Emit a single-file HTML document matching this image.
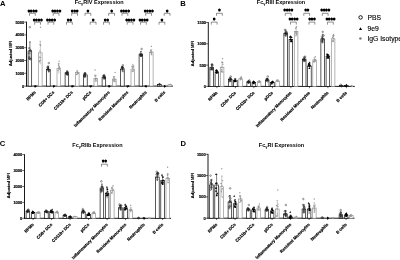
<!DOCTYPE html>
<html><head><meta charset="utf-8"><style>
html,body{margin:0;padding:0;background:#fff;width:400px;height:260px;overflow:hidden}
svg{display:block}
text{font-family:'Liberation Sans', Arial, sans-serif}
</style></head><body>
<svg width="400" height="260" viewBox="0 0 400 260">
<rect width="400" height="260" fill="#fff"/>
<text x="0.00" y="5.90" font-size="7.6" text-anchor="start" font-weight="bold" fill="#000" >A</text>
<text x="99.20" y="4.40" font-size="5.5" text-anchor="middle" font-weight="bold" fill="#000" >Fc<tspan font-size="4.0" dy="0.4">&#947;</tspan><tspan dy="-0.4">RIV Expression</tspan></text>
<text x="12.00" y="53.50" font-size="4.0" text-anchor="middle" font-weight="bold" fill="#000" stroke="#000" stroke-width="0.15" transform="rotate(-90 12.00 53.50)">Adjusted MFI</text>
<line x1="26.50" y1="21.70" x2="26.50" y2="86.50" stroke="#000" stroke-width="0.9"/>
<line x1="26.10" y1="86.10" x2="173.00" y2="86.10" stroke="#000" stroke-width="0.9"/>
<line x1="24.30" y1="86.10" x2="26.50" y2="86.10" stroke="#000" stroke-width="0.6"/>
<text x="24.30" y="87.50" font-size="4.0" text-anchor="end" font-weight="bold" fill="#000" stroke="#000" stroke-width="0.15">0</text>
<line x1="24.30" y1="73.30" x2="26.50" y2="73.30" stroke="#000" stroke-width="0.6"/>
<text x="24.30" y="74.70" font-size="4.0" text-anchor="end" font-weight="bold" fill="#000" stroke="#000" stroke-width="0.15">1000</text>
<line x1="24.30" y1="60.50" x2="26.50" y2="60.50" stroke="#000" stroke-width="0.6"/>
<text x="24.30" y="61.90" font-size="4.0" text-anchor="end" font-weight="bold" fill="#000" stroke="#000" stroke-width="0.15">2000</text>
<line x1="24.30" y1="47.70" x2="26.50" y2="47.70" stroke="#000" stroke-width="0.6"/>
<text x="24.30" y="49.10" font-size="4.0" text-anchor="end" font-weight="bold" fill="#000" stroke="#000" stroke-width="0.15">3000</text>
<line x1="24.30" y1="34.90" x2="26.50" y2="34.90" stroke="#000" stroke-width="0.6"/>
<text x="24.30" y="36.30" font-size="4.0" text-anchor="end" font-weight="bold" fill="#000" stroke="#000" stroke-width="0.15">4000</text>
<line x1="24.30" y1="22.10" x2="26.50" y2="22.10" stroke="#000" stroke-width="0.6"/>
<text x="24.30" y="23.50" font-size="4.0" text-anchor="end" font-weight="bold" fill="#000" stroke="#000" stroke-width="0.15">5000</text>
<line x1="35.10" y1="86.10" x2="35.10" y2="87.90" stroke="#000" stroke-width="0.6"/>
<text x="36.10" y="92.70" font-size="4.15" text-anchor="end" font-weight="bold" fill="#000" stroke="#000" stroke-width="0.18" transform="rotate(-45 36.10 92.70)">RPMs</text>
<line x1="53.60" y1="86.10" x2="53.60" y2="87.90" stroke="#000" stroke-width="0.6"/>
<text x="54.60" y="92.70" font-size="4.15" text-anchor="end" font-weight="bold" fill="#000" stroke="#000" stroke-width="0.18" transform="rotate(-45 54.60 92.70)">CD8+ DCs</text>
<line x1="72.10" y1="86.10" x2="72.10" y2="87.90" stroke="#000" stroke-width="0.6"/>
<text x="73.10" y="92.70" font-size="4.15" text-anchor="end" font-weight="bold" fill="#000" stroke="#000" stroke-width="0.18" transform="rotate(-45 73.10 92.70)">CD11b+ DCs</text>
<line x1="90.60" y1="86.10" x2="90.60" y2="87.90" stroke="#000" stroke-width="0.6"/>
<text x="91.60" y="92.70" font-size="4.15" text-anchor="end" font-weight="bold" fill="#000" stroke="#000" stroke-width="0.18" transform="rotate(-45 91.60 92.70)">pDCs</text>
<line x1="109.10" y1="86.10" x2="109.10" y2="87.90" stroke="#000" stroke-width="0.6"/>
<text x="110.10" y="92.70" font-size="4.15" text-anchor="end" font-weight="bold" fill="#000" stroke="#000" stroke-width="0.18" transform="rotate(-45 110.10 92.70)">Inflammatory Monocytes</text>
<line x1="127.60" y1="86.10" x2="127.60" y2="87.90" stroke="#000" stroke-width="0.6"/>
<text x="128.60" y="92.70" font-size="4.15" text-anchor="end" font-weight="bold" fill="#000" stroke="#000" stroke-width="0.18" transform="rotate(-45 128.60 92.70)">Resident Monocytes</text>
<line x1="146.10" y1="86.10" x2="146.10" y2="87.90" stroke="#000" stroke-width="0.6"/>
<text x="147.10" y="92.70" font-size="4.15" text-anchor="end" font-weight="bold" fill="#000" stroke="#000" stroke-width="0.18" transform="rotate(-45 147.10 92.70)">Neutrophils</text>
<line x1="164.60" y1="86.10" x2="164.60" y2="87.90" stroke="#000" stroke-width="0.6"/>
<text x="165.60" y="92.70" font-size="4.15" text-anchor="end" font-weight="bold" fill="#000" stroke="#000" stroke-width="0.18" transform="rotate(-45 165.60 92.70)">B cells</text>
<rect x="28.10" y="50.90" width="3.6" height="35.20" fill="#fff" stroke="#000" stroke-width="0.65"/>
<line x1="29.90" y1="59.86" x2="29.90" y2="41.94" stroke="#000" stroke-width="0.5"/>
<line x1="29.00" y1="41.94" x2="30.80" y2="41.94" stroke="#000" stroke-width="0.5"/>
<circle cx="29.78" cy="27.22" r="0.8" fill="none" stroke="#222" stroke-width="0.45"/>
<circle cx="29.13" cy="57.16" r="0.8" fill="none" stroke="#222" stroke-width="0.45"/>
<circle cx="29.16" cy="48.20" r="0.8" fill="none" stroke="#222" stroke-width="0.45"/>
<circle cx="29.76" cy="58.56" r="0.8" fill="none" stroke="#222" stroke-width="0.45"/>
<circle cx="30.49" cy="50.26" r="0.8" fill="none" stroke="#222" stroke-width="0.45"/>
<circle cx="29.22" cy="53.31" r="0.8" fill="none" stroke="#222" stroke-width="0.45"/>
<circle cx="29.40" cy="58.82" r="0.8" fill="none" stroke="#222" stroke-width="0.45"/>
<circle cx="30.13" cy="50.77" r="0.8" fill="none" stroke="#222" stroke-width="0.45"/>
<circle cx="30.71" cy="59.19" r="0.8" fill="none" stroke="#222" stroke-width="0.45"/>
<path d="M35.24 84.97L36.24 86.77L34.24 86.77Z" fill="#000"/>
<path d="M34.91 84.97L35.91 86.77L33.91 86.77Z" fill="#000"/>
<path d="M35.96 84.97L36.96 86.77L34.96 86.77Z" fill="#000"/>
<rect x="38.50" y="52.82" width="3.6" height="33.28" fill="#fff" stroke="#8c8c8c" stroke-width="0.65"/>
<line x1="40.30" y1="64.34" x2="40.30" y2="41.30" stroke="#8c8c8c" stroke-width="0.5"/>
<line x1="39.40" y1="41.30" x2="41.20" y2="41.30" stroke="#8c8c8c" stroke-width="0.5"/>
<circle cx="40.55" cy="27.22" r="0.7" fill="#999"/>
<circle cx="40.07" cy="44.56" r="0.7" fill="#999"/>
<circle cx="40.39" cy="57.67" r="0.7" fill="#999"/>
<circle cx="39.51" cy="61.02" r="0.7" fill="#999"/>
<circle cx="39.51" cy="61.63" r="0.7" fill="#999"/>
<circle cx="39.77" cy="57.23" r="0.7" fill="#999"/>
<circle cx="40.62" cy="45.54" r="0.7" fill="#999"/>
<circle cx="40.17" cy="60.18" r="0.7" fill="#999"/>
<circle cx="39.97" cy="50.94" r="0.7" fill="#999"/>
<rect x="46.60" y="69.33" width="3.6" height="16.77" fill="#fff" stroke="#000" stroke-width="0.65"/>
<line x1="48.40" y1="72.53" x2="48.40" y2="66.13" stroke="#000" stroke-width="0.5"/>
<line x1="47.50" y1="66.13" x2="49.30" y2="66.13" stroke="#000" stroke-width="0.5"/>
<circle cx="48.81" cy="63.06" r="0.8" fill="none" stroke="#222" stroke-width="0.45"/>
<circle cx="48.02" cy="69.63" r="0.8" fill="none" stroke="#222" stroke-width="0.45"/>
<circle cx="49.26" cy="70.61" r="0.8" fill="none" stroke="#222" stroke-width="0.45"/>
<circle cx="47.71" cy="67.45" r="0.8" fill="none" stroke="#222" stroke-width="0.45"/>
<circle cx="48.25" cy="68.06" r="0.8" fill="none" stroke="#222" stroke-width="0.45"/>
<circle cx="48.86" cy="70.97" r="0.8" fill="none" stroke="#222" stroke-width="0.45"/>
<circle cx="47.77" cy="68.86" r="0.8" fill="none" stroke="#222" stroke-width="0.45"/>
<circle cx="48.38" cy="69.17" r="0.8" fill="none" stroke="#222" stroke-width="0.45"/>
<circle cx="47.57" cy="66.93" r="0.8" fill="none" stroke="#222" stroke-width="0.45"/>
<path d="M53.90 84.97L54.90 86.77L52.90 86.77Z" fill="#000"/>
<path d="M54.08 84.97L55.08 86.77L53.08 86.77Z" fill="#000"/>
<path d="M53.73 84.97L54.73 86.77L52.73 86.77Z" fill="#000"/>
<rect x="57.00" y="68.56" width="3.6" height="17.54" fill="#fff" stroke="#8c8c8c" stroke-width="0.65"/>
<line x1="58.80" y1="73.68" x2="58.80" y2="63.44" stroke="#8c8c8c" stroke-width="0.5"/>
<line x1="57.90" y1="63.44" x2="59.70" y2="63.44" stroke="#8c8c8c" stroke-width="0.5"/>
<circle cx="59.10" cy="61.14" r="0.7" fill="#999"/>
<circle cx="58.01" cy="70.47" r="0.7" fill="#999"/>
<circle cx="59.16" cy="66.56" r="0.7" fill="#999"/>
<circle cx="59.06" cy="67.60" r="0.7" fill="#999"/>
<circle cx="59.69" cy="67.75" r="0.7" fill="#999"/>
<circle cx="59.38" cy="69.01" r="0.7" fill="#999"/>
<circle cx="58.41" cy="65.08" r="0.7" fill="#999"/>
<circle cx="58.59" cy="64.01" r="0.7" fill="#999"/>
<circle cx="59.10" cy="68.83" r="0.7" fill="#999"/>
<rect x="65.10" y="72.79" width="3.6" height="13.31" fill="#fff" stroke="#000" stroke-width="0.65"/>
<line x1="66.90" y1="74.71" x2="66.90" y2="70.87" stroke="#000" stroke-width="0.5"/>
<line x1="66.00" y1="70.87" x2="67.80" y2="70.87" stroke="#000" stroke-width="0.5"/>
<circle cx="67.57" cy="72.02" r="0.8" fill="none" stroke="#222" stroke-width="0.45"/>
<circle cx="66.15" cy="72.94" r="0.8" fill="none" stroke="#222" stroke-width="0.45"/>
<circle cx="66.81" cy="74.06" r="0.8" fill="none" stroke="#222" stroke-width="0.45"/>
<circle cx="66.99" cy="74.26" r="0.8" fill="none" stroke="#222" stroke-width="0.45"/>
<circle cx="67.59" cy="74.48" r="0.8" fill="none" stroke="#222" stroke-width="0.45"/>
<circle cx="67.47" cy="72.02" r="0.8" fill="none" stroke="#222" stroke-width="0.45"/>
<circle cx="67.56" cy="74.21" r="0.8" fill="none" stroke="#222" stroke-width="0.45"/>
<circle cx="66.50" cy="73.76" r="0.8" fill="none" stroke="#222" stroke-width="0.45"/>
<circle cx="66.75" cy="73.21" r="0.8" fill="none" stroke="#222" stroke-width="0.45"/>
<path d="M71.85 84.97L72.85 86.77L70.85 86.77Z" fill="#000"/>
<path d="M72.79 84.97L73.79 86.77L71.79 86.77Z" fill="#000"/>
<path d="M72.92 84.97L73.92 86.77L71.92 86.77Z" fill="#000"/>
<rect x="75.50" y="72.53" width="3.6" height="13.57" fill="#fff" stroke="#8c8c8c" stroke-width="0.65"/>
<line x1="77.30" y1="74.45" x2="77.30" y2="70.61" stroke="#8c8c8c" stroke-width="0.5"/>
<line x1="76.40" y1="70.61" x2="78.20" y2="70.61" stroke="#8c8c8c" stroke-width="0.5"/>
<circle cx="77.06" cy="71.38" r="0.7" fill="#999"/>
<circle cx="77.42" cy="73.78" r="0.7" fill="#999"/>
<circle cx="78.12" cy="73.56" r="0.7" fill="#999"/>
<circle cx="77.64" cy="73.56" r="0.7" fill="#999"/>
<circle cx="77.33" cy="72.59" r="0.7" fill="#999"/>
<circle cx="77.51" cy="72.19" r="0.7" fill="#999"/>
<circle cx="77.62" cy="73.44" r="0.7" fill="#999"/>
<circle cx="76.50" cy="74.44" r="0.7" fill="#999"/>
<circle cx="78.02" cy="72.84" r="0.7" fill="#999"/>
<rect x="83.60" y="74.90" width="3.6" height="11.20" fill="#fff" stroke="#000" stroke-width="0.65"/>
<line x1="85.40" y1="76.82" x2="85.40" y2="72.98" stroke="#000" stroke-width="0.5"/>
<line x1="84.50" y1="72.98" x2="86.30" y2="72.98" stroke="#000" stroke-width="0.5"/>
<circle cx="84.88" cy="73.30" r="0.8" fill="none" stroke="#222" stroke-width="0.45"/>
<circle cx="84.79" cy="73.46" r="0.8" fill="none" stroke="#222" stroke-width="0.45"/>
<circle cx="85.11" cy="73.76" r="0.8" fill="none" stroke="#222" stroke-width="0.45"/>
<circle cx="84.59" cy="75.31" r="0.8" fill="none" stroke="#222" stroke-width="0.45"/>
<circle cx="84.50" cy="75.29" r="0.8" fill="none" stroke="#222" stroke-width="0.45"/>
<circle cx="84.77" cy="76.42" r="0.8" fill="none" stroke="#222" stroke-width="0.45"/>
<circle cx="84.68" cy="74.38" r="0.8" fill="none" stroke="#222" stroke-width="0.45"/>
<circle cx="85.15" cy="76.58" r="0.8" fill="none" stroke="#222" stroke-width="0.45"/>
<circle cx="84.55" cy="76.56" r="0.8" fill="none" stroke="#222" stroke-width="0.45"/>
<path d="M91.27 84.97L92.27 86.77L90.27 86.77Z" fill="#000"/>
<path d="M90.81 84.97L91.81 86.77L89.81 86.77Z" fill="#000"/>
<path d="M89.97 84.97L90.97 86.77L88.97 86.77Z" fill="#000"/>
<rect x="94.00" y="78.42" width="3.6" height="7.68" fill="#fff" stroke="#8c8c8c" stroke-width="0.65"/>
<line x1="95.80" y1="81.62" x2="95.80" y2="75.22" stroke="#8c8c8c" stroke-width="0.5"/>
<line x1="94.90" y1="75.22" x2="96.70" y2="75.22" stroke="#8c8c8c" stroke-width="0.5"/>
<circle cx="95.08" cy="69.97" r="0.7" fill="#999"/>
<circle cx="95.52" cy="79.40" r="0.7" fill="#999"/>
<circle cx="95.38" cy="79.29" r="0.7" fill="#999"/>
<circle cx="96.39" cy="80.83" r="0.7" fill="#999"/>
<circle cx="95.19" cy="76.19" r="0.7" fill="#999"/>
<circle cx="94.94" cy="75.26" r="0.7" fill="#999"/>
<circle cx="96.61" cy="78.64" r="0.7" fill="#999"/>
<circle cx="95.85" cy="78.52" r="0.7" fill="#999"/>
<circle cx="95.16" cy="81.07" r="0.7" fill="#999"/>
<rect x="102.10" y="77.14" width="3.6" height="8.96" fill="#fff" stroke="#000" stroke-width="0.65"/>
<line x1="103.90" y1="78.68" x2="103.90" y2="75.60" stroke="#000" stroke-width="0.5"/>
<line x1="103.00" y1="75.60" x2="104.80" y2="75.60" stroke="#000" stroke-width="0.5"/>
<circle cx="104.39" cy="75.22" r="0.8" fill="none" stroke="#222" stroke-width="0.45"/>
<circle cx="103.96" cy="78.59" r="0.8" fill="none" stroke="#222" stroke-width="0.45"/>
<circle cx="104.40" cy="77.05" r="0.8" fill="none" stroke="#222" stroke-width="0.45"/>
<circle cx="103.59" cy="75.67" r="0.8" fill="none" stroke="#222" stroke-width="0.45"/>
<circle cx="103.40" cy="76.02" r="0.8" fill="none" stroke="#222" stroke-width="0.45"/>
<circle cx="104.46" cy="76.54" r="0.8" fill="none" stroke="#222" stroke-width="0.45"/>
<circle cx="104.77" cy="77.87" r="0.8" fill="none" stroke="#222" stroke-width="0.45"/>
<circle cx="104.53" cy="77.55" r="0.8" fill="none" stroke="#222" stroke-width="0.45"/>
<circle cx="104.45" cy="78.16" r="0.8" fill="none" stroke="#222" stroke-width="0.45"/>
<path d="M109.67 84.97L110.67 86.77L108.67 86.77Z" fill="#000"/>
<path d="M109.53 84.97L110.53 86.77L108.53 86.77Z" fill="#000"/>
<path d="M108.61 84.97L109.61 86.77L107.61 86.77Z" fill="#000"/>
<rect x="112.50" y="79.06" width="3.6" height="7.04" fill="#fff" stroke="#8c8c8c" stroke-width="0.65"/>
<line x1="114.30" y1="81.62" x2="114.30" y2="76.50" stroke="#8c8c8c" stroke-width="0.5"/>
<line x1="113.40" y1="76.50" x2="115.20" y2="76.50" stroke="#8c8c8c" stroke-width="0.5"/>
<circle cx="115.09" cy="72.40" r="0.7" fill="#999"/>
<circle cx="115.18" cy="79.80" r="0.7" fill="#999"/>
<circle cx="115.12" cy="81.47" r="0.7" fill="#999"/>
<circle cx="114.06" cy="81.48" r="0.7" fill="#999"/>
<circle cx="113.80" cy="80.19" r="0.7" fill="#999"/>
<circle cx="113.81" cy="80.29" r="0.7" fill="#999"/>
<circle cx="113.75" cy="78.07" r="0.7" fill="#999"/>
<circle cx="113.77" cy="76.72" r="0.7" fill="#999"/>
<circle cx="114.52" cy="79.33" r="0.7" fill="#999"/>
<rect x="120.60" y="69.08" width="3.6" height="17.02" fill="#fff" stroke="#000" stroke-width="0.65"/>
<line x1="122.40" y1="71.64" x2="122.40" y2="66.52" stroke="#000" stroke-width="0.5"/>
<line x1="121.50" y1="66.52" x2="123.30" y2="66.52" stroke="#000" stroke-width="0.5"/>
<circle cx="122.85" cy="65.24" r="0.8" fill="none" stroke="#222" stroke-width="0.45"/>
<circle cx="122.36" cy="67.33" r="0.8" fill="none" stroke="#222" stroke-width="0.45"/>
<circle cx="121.82" cy="69.18" r="0.8" fill="none" stroke="#222" stroke-width="0.45"/>
<circle cx="122.92" cy="68.29" r="0.8" fill="none" stroke="#222" stroke-width="0.45"/>
<circle cx="122.10" cy="67.54" r="0.8" fill="none" stroke="#222" stroke-width="0.45"/>
<circle cx="122.94" cy="71.20" r="0.8" fill="none" stroke="#222" stroke-width="0.45"/>
<circle cx="123.25" cy="68.25" r="0.8" fill="none" stroke="#222" stroke-width="0.45"/>
<circle cx="122.21" cy="66.98" r="0.8" fill="none" stroke="#222" stroke-width="0.45"/>
<circle cx="122.22" cy="67.63" r="0.8" fill="none" stroke="#222" stroke-width="0.45"/>
<path d="M128.40 84.97L129.40 86.77L127.40 86.77Z" fill="#000"/>
<path d="M128.00 84.97L129.00 86.77L127.00 86.77Z" fill="#000"/>
<path d="M127.01 84.97L128.01 86.77L126.01 86.77Z" fill="#000"/>
<rect x="131.00" y="69.08" width="3.6" height="17.02" fill="#fff" stroke="#8c8c8c" stroke-width="0.65"/>
<line x1="132.80" y1="72.28" x2="132.80" y2="65.88" stroke="#8c8c8c" stroke-width="0.5"/>
<line x1="131.90" y1="65.88" x2="133.70" y2="65.88" stroke="#8c8c8c" stroke-width="0.5"/>
<circle cx="132.89" cy="64.34" r="0.7" fill="#999"/>
<circle cx="132.14" cy="71.31" r="0.7" fill="#999"/>
<circle cx="131.93" cy="66.48" r="0.7" fill="#999"/>
<circle cx="133.65" cy="67.11" r="0.7" fill="#999"/>
<circle cx="133.07" cy="71.34" r="0.7" fill="#999"/>
<circle cx="132.85" cy="66.99" r="0.7" fill="#999"/>
<circle cx="133.58" cy="66.00" r="0.7" fill="#999"/>
<circle cx="132.68" cy="68.07" r="0.7" fill="#999"/>
<circle cx="133.47" cy="70.03" r="0.7" fill="#999"/>
<rect x="139.10" y="54.10" width="3.6" height="32.00" fill="#fff" stroke="#000" stroke-width="0.65"/>
<line x1="140.90" y1="56.66" x2="140.90" y2="51.54" stroke="#000" stroke-width="0.5"/>
<line x1="140.00" y1="51.54" x2="141.80" y2="51.54" stroke="#000" stroke-width="0.5"/>
<circle cx="141.64" cy="48.98" r="0.8" fill="none" stroke="#222" stroke-width="0.45"/>
<circle cx="140.64" cy="55.58" r="0.8" fill="none" stroke="#222" stroke-width="0.45"/>
<circle cx="140.82" cy="55.37" r="0.8" fill="none" stroke="#222" stroke-width="0.45"/>
<circle cx="141.05" cy="55.16" r="0.8" fill="none" stroke="#222" stroke-width="0.45"/>
<circle cx="141.63" cy="55.43" r="0.8" fill="none" stroke="#222" stroke-width="0.45"/>
<circle cx="140.76" cy="53.66" r="0.8" fill="none" stroke="#222" stroke-width="0.45"/>
<circle cx="141.65" cy="55.33" r="0.8" fill="none" stroke="#222" stroke-width="0.45"/>
<circle cx="140.90" cy="54.51" r="0.8" fill="none" stroke="#222" stroke-width="0.45"/>
<circle cx="140.96" cy="55.99" r="0.8" fill="none" stroke="#222" stroke-width="0.45"/>
<path d="M146.14 84.97L147.14 86.77L145.14 86.77Z" fill="#000"/>
<path d="M145.23 84.97L146.23 86.77L144.23 86.77Z" fill="#000"/>
<path d="M145.99 84.97L146.99 86.77L144.99 86.77Z" fill="#000"/>
<rect x="149.50" y="52.18" width="3.6" height="33.92" fill="#fff" stroke="#8c8c8c" stroke-width="0.65"/>
<line x1="151.30" y1="54.74" x2="151.30" y2="49.62" stroke="#8c8c8c" stroke-width="0.5"/>
<line x1="150.40" y1="49.62" x2="152.20" y2="49.62" stroke="#8c8c8c" stroke-width="0.5"/>
<circle cx="151.40" cy="46.42" r="0.7" fill="#999"/>
<circle cx="151.81" cy="54.72" r="0.7" fill="#999"/>
<circle cx="150.59" cy="50.65" r="0.7" fill="#999"/>
<circle cx="151.41" cy="53.86" r="0.7" fill="#999"/>
<circle cx="150.85" cy="52.32" r="0.7" fill="#999"/>
<circle cx="150.90" cy="51.03" r="0.7" fill="#999"/>
<circle cx="151.79" cy="51.89" r="0.7" fill="#999"/>
<circle cx="151.31" cy="53.07" r="0.7" fill="#999"/>
<circle cx="151.41" cy="52.09" r="0.7" fill="#999"/>
<rect x="157.60" y="84.56" width="3.6" height="1.54" fill="#fff" stroke="#000" stroke-width="0.65"/>
<circle cx="159.60" cy="84.18" r="0.8" fill="none" stroke="#222" stroke-width="0.45"/>
<circle cx="159.41" cy="84.25" r="0.8" fill="none" stroke="#222" stroke-width="0.45"/>
<circle cx="159.42" cy="84.61" r="0.8" fill="none" stroke="#222" stroke-width="0.45"/>
<path d="M164.95 84.97L165.95 86.77L163.95 86.77Z" fill="#000"/>
<path d="M164.51 84.97L165.51 86.77L163.51 86.77Z" fill="#000"/>
<path d="M164.66 84.97L165.66 86.77L163.66 86.77Z" fill="#000"/>
<rect x="168.00" y="84.69" width="3.6" height="1.41" fill="#fff" stroke="#8c8c8c" stroke-width="0.65"/>
<circle cx="170.48" cy="84.44" r="0.7" fill="#999"/>
<circle cx="170.60" cy="84.47" r="0.7" fill="#999"/>
<circle cx="169.37" cy="84.59" r="0.7" fill="#999"/>
<path d="M29.50 15.80V13.30H35.30V15.80" fill="none" stroke="#444" stroke-width="0.6"/>
<text x="32.77" y="14.00" font-size="4.8" text-anchor="middle" font-weight="bold" fill="#000" stroke="#000" stroke-width="0.9" stroke-linejoin="round" letter-spacing="0.55">****</text>
<path d="M53.20 15.80V13.30H59.00V15.80" fill="none" stroke="#444" stroke-width="0.6"/>
<text x="56.48" y="14.00" font-size="4.8" text-anchor="middle" font-weight="bold" fill="#000" stroke="#000" stroke-width="0.9" stroke-linejoin="round" letter-spacing="0.55">****</text>
<path d="M71.70 15.80V13.30H77.50V15.80" fill="none" stroke="#444" stroke-width="0.6"/>
<text x="74.97" y="14.00" font-size="4.8" text-anchor="middle" font-weight="bold" fill="#000" stroke="#000" stroke-width="0.9" stroke-linejoin="round" letter-spacing="0.55">***</text>
<path d="M85.00 15.80V13.30H90.80V15.80" fill="none" stroke="#444" stroke-width="0.6"/>
<text x="88.28" y="14.00" font-size="4.8" text-anchor="middle" font-weight="bold" fill="#000" stroke="#000" stroke-width="0.9" stroke-linejoin="round" letter-spacing="0.55">*</text>
<path d="M108.70 15.80V13.30H114.50V15.80" fill="none" stroke="#444" stroke-width="0.6"/>
<text x="111.97" y="14.00" font-size="4.8" text-anchor="middle" font-weight="bold" fill="#000" stroke="#000" stroke-width="0.9" stroke-linejoin="round" letter-spacing="0.55">*</text>
<path d="M122.00 15.80V13.30H127.80V15.80" fill="none" stroke="#444" stroke-width="0.6"/>
<text x="125.28" y="14.00" font-size="4.8" text-anchor="middle" font-weight="bold" fill="#000" stroke="#000" stroke-width="0.9" stroke-linejoin="round" letter-spacing="0.55">****</text>
<path d="M145.70 15.80V13.30H151.50V15.80" fill="none" stroke="#444" stroke-width="0.6"/>
<text x="148.97" y="14.00" font-size="4.8" text-anchor="middle" font-weight="bold" fill="#000" stroke="#000" stroke-width="0.9" stroke-linejoin="round" letter-spacing="0.55">****</text>
<path d="M164.20 15.80V13.30H170.00V15.80" fill="none" stroke="#444" stroke-width="0.6"/>
<text x="167.47" y="14.00" font-size="4.8" text-anchor="middle" font-weight="bold" fill="#000" stroke="#000" stroke-width="0.9" stroke-linejoin="round" letter-spacing="0.55">*</text>
<path d="M34.70 24.70V22.20H40.50V24.70" fill="none" stroke="#444" stroke-width="0.6"/>
<text x="37.98" y="23.00" font-size="4.8" text-anchor="middle" font-weight="bold" fill="#000" stroke="#000" stroke-width="0.9" stroke-linejoin="round" letter-spacing="0.55">****</text>
<path d="M48.00 24.70V22.20H53.80V24.70" fill="none" stroke="#444" stroke-width="0.6"/>
<text x="51.27" y="23.00" font-size="4.8" text-anchor="middle" font-weight="bold" fill="#000" stroke="#000" stroke-width="0.9" stroke-linejoin="round" letter-spacing="0.55">****</text>
<path d="M66.50 24.70V22.20H72.30V24.70" fill="none" stroke="#444" stroke-width="0.6"/>
<text x="69.78" y="23.00" font-size="4.8" text-anchor="middle" font-weight="bold" fill="#000" stroke="#000" stroke-width="0.9" stroke-linejoin="round" letter-spacing="0.55">**</text>
<path d="M90.20 24.70V22.20H96.00V24.70" fill="none" stroke="#444" stroke-width="0.6"/>
<text x="93.47" y="23.00" font-size="4.8" text-anchor="middle" font-weight="bold" fill="#000" stroke="#000" stroke-width="0.9" stroke-linejoin="round" letter-spacing="0.55">*</text>
<path d="M103.50 24.70V22.20H109.30V24.70" fill="none" stroke="#444" stroke-width="0.6"/>
<text x="106.78" y="23.00" font-size="4.8" text-anchor="middle" font-weight="bold" fill="#000" stroke="#000" stroke-width="0.9" stroke-linejoin="round" letter-spacing="0.55">**</text>
<path d="M127.20 24.70V22.20H133.00V24.70" fill="none" stroke="#444" stroke-width="0.6"/>
<text x="130.47" y="23.00" font-size="4.8" text-anchor="middle" font-weight="bold" fill="#000" stroke="#000" stroke-width="0.9" stroke-linejoin="round" letter-spacing="0.55">****</text>
<path d="M140.50 24.70V22.20H146.30V24.70" fill="none" stroke="#444" stroke-width="0.6"/>
<text x="143.78" y="23.00" font-size="4.8" text-anchor="middle" font-weight="bold" fill="#000" stroke="#000" stroke-width="0.9" stroke-linejoin="round" letter-spacing="0.55">****</text>
<path d="M159.00 24.70V22.20H164.80V24.70" fill="none" stroke="#444" stroke-width="0.6"/>
<text x="162.28" y="23.00" font-size="4.8" text-anchor="middle" font-weight="bold" fill="#000" stroke="#000" stroke-width="0.9" stroke-linejoin="round" letter-spacing="0.55">*</text>
<text x="180.30" y="6.00" font-size="7.6" text-anchor="start" font-weight="bold" fill="#000" >B</text>
<text x="281.00" y="4.30" font-size="5.5" text-anchor="middle" font-weight="bold" fill="#000" >Fc<tspan font-size="4.0" dy="0.4">&#947;</tspan><tspan dy="-0.4">RIII Expression</tspan></text>
<text x="194.00" y="53.60" font-size="4.0" text-anchor="middle" font-weight="bold" fill="#000" stroke="#000" stroke-width="0.15" transform="rotate(-90 194.00 53.60)">Adjusted MFI</text>
<line x1="208.30" y1="22.10" x2="208.30" y2="86.80" stroke="#000" stroke-width="0.9"/>
<line x1="207.90" y1="86.40" x2="354.80" y2="86.40" stroke="#000" stroke-width="0.9"/>
<line x1="206.10" y1="86.40" x2="208.30" y2="86.40" stroke="#000" stroke-width="0.6"/>
<text x="206.10" y="87.80" font-size="4.0" text-anchor="end" font-weight="bold" fill="#000" stroke="#000" stroke-width="0.15">0</text>
<line x1="206.10" y1="65.10" x2="208.30" y2="65.10" stroke="#000" stroke-width="0.6"/>
<text x="206.10" y="66.50" font-size="4.0" text-anchor="end" font-weight="bold" fill="#000" stroke="#000" stroke-width="0.15">500</text>
<line x1="206.10" y1="43.80" x2="208.30" y2="43.80" stroke="#000" stroke-width="0.6"/>
<text x="206.10" y="45.20" font-size="4.0" text-anchor="end" font-weight="bold" fill="#000" stroke="#000" stroke-width="0.15">1000</text>
<line x1="206.10" y1="22.50" x2="208.30" y2="22.50" stroke="#000" stroke-width="0.6"/>
<text x="206.10" y="23.90" font-size="4.0" text-anchor="end" font-weight="bold" fill="#000" stroke="#000" stroke-width="0.15">1500</text>
<line x1="216.90" y1="86.40" x2="216.90" y2="88.20" stroke="#000" stroke-width="0.6"/>
<text x="217.90" y="93.00" font-size="4.15" text-anchor="end" font-weight="bold" fill="#000" stroke="#000" stroke-width="0.18" transform="rotate(-45 217.90 93.00)">RPMs</text>
<line x1="235.40" y1="86.40" x2="235.40" y2="88.20" stroke="#000" stroke-width="0.6"/>
<text x="236.40" y="93.00" font-size="4.15" text-anchor="end" font-weight="bold" fill="#000" stroke="#000" stroke-width="0.18" transform="rotate(-45 236.40 93.00)">CD8+ DCs</text>
<line x1="253.90" y1="86.40" x2="253.90" y2="88.20" stroke="#000" stroke-width="0.6"/>
<text x="254.90" y="93.00" font-size="4.15" text-anchor="end" font-weight="bold" fill="#000" stroke="#000" stroke-width="0.18" transform="rotate(-45 254.90 93.00)">CD11b+ DCs</text>
<line x1="272.40" y1="86.40" x2="272.40" y2="88.20" stroke="#000" stroke-width="0.6"/>
<text x="273.40" y="93.00" font-size="4.15" text-anchor="end" font-weight="bold" fill="#000" stroke="#000" stroke-width="0.18" transform="rotate(-45 273.40 93.00)">pDCs</text>
<line x1="290.90" y1="86.40" x2="290.90" y2="88.20" stroke="#000" stroke-width="0.6"/>
<text x="291.90" y="93.00" font-size="4.15" text-anchor="end" font-weight="bold" fill="#000" stroke="#000" stroke-width="0.18" transform="rotate(-45 291.90 93.00)">Inflammatory Monocytes</text>
<line x1="309.40" y1="86.40" x2="309.40" y2="88.20" stroke="#000" stroke-width="0.6"/>
<text x="310.40" y="93.00" font-size="4.15" text-anchor="end" font-weight="bold" fill="#000" stroke="#000" stroke-width="0.18" transform="rotate(-45 310.40 93.00)">Resident Monocytes</text>
<line x1="327.90" y1="86.40" x2="327.90" y2="88.20" stroke="#000" stroke-width="0.6"/>
<text x="328.90" y="93.00" font-size="4.15" text-anchor="end" font-weight="bold" fill="#000" stroke="#000" stroke-width="0.18" transform="rotate(-45 328.90 93.00)">Neutrophils</text>
<line x1="346.40" y1="86.40" x2="346.40" y2="88.20" stroke="#000" stroke-width="0.6"/>
<text x="347.40" y="93.00" font-size="4.15" text-anchor="end" font-weight="bold" fill="#000" stroke="#000" stroke-width="0.18" transform="rotate(-45 347.40 93.00)">B cells</text>
<rect x="209.90" y="67.23" width="3.6" height="19.17" fill="#fff" stroke="#000" stroke-width="0.65"/>
<line x1="211.70" y1="69.79" x2="211.70" y2="64.67" stroke="#000" stroke-width="0.5"/>
<line x1="210.80" y1="64.67" x2="212.60" y2="64.67" stroke="#000" stroke-width="0.5"/>
<circle cx="212.01" cy="64.25" r="0.8" fill="none" stroke="#222" stroke-width="0.45"/>
<circle cx="212.21" cy="64.96" r="0.8" fill="none" stroke="#222" stroke-width="0.45"/>
<circle cx="212.41" cy="65.49" r="0.8" fill="none" stroke="#222" stroke-width="0.45"/>
<circle cx="211.08" cy="69.08" r="0.8" fill="none" stroke="#222" stroke-width="0.45"/>
<circle cx="212.09" cy="69.16" r="0.8" fill="none" stroke="#222" stroke-width="0.45"/>
<circle cx="211.99" cy="67.53" r="0.8" fill="none" stroke="#222" stroke-width="0.45"/>
<circle cx="211.06" cy="69.42" r="0.8" fill="none" stroke="#222" stroke-width="0.45"/>
<circle cx="212.39" cy="68.56" r="0.8" fill="none" stroke="#222" stroke-width="0.45"/>
<circle cx="212.54" cy="69.41" r="0.8" fill="none" stroke="#222" stroke-width="0.45"/>
<rect x="215.10" y="71.92" width="3.6" height="14.48" fill="#fff" stroke="#000" stroke-width="0.65"/>
<line x1="216.90" y1="73.62" x2="216.90" y2="70.21" stroke="#000" stroke-width="0.5"/>
<line x1="216.00" y1="70.21" x2="217.80" y2="70.21" stroke="#000" stroke-width="0.5"/>
<path d="M216.61 69.21L217.61 71.01L215.61 71.01Z" fill="#000"/>
<path d="M216.35 69.37L217.35 71.17L215.35 71.17Z" fill="#000"/>
<path d="M216.57 71.26L217.57 73.06L215.57 73.06Z" fill="#000"/>
<path d="M217.30 70.96L218.30 72.76L216.30 72.76Z" fill="#000"/>
<path d="M216.04 69.25L217.04 71.05L215.04 71.05Z" fill="#000"/>
<path d="M217.00 69.78L218.00 71.58L216.00 71.58Z" fill="#000"/>
<path d="M216.79 72.07L217.79 73.87L215.79 73.87Z" fill="#000"/>
<path d="M216.03 71.15L217.03 72.95L215.03 72.95Z" fill="#000"/>
<path d="M216.60 70.86L217.60 72.66L215.60 72.66Z" fill="#000"/>
<rect x="220.30" y="67.23" width="3.6" height="19.17" fill="#fff" stroke="#8c8c8c" stroke-width="0.65"/>
<line x1="222.10" y1="72.34" x2="222.10" y2="62.12" stroke="#8c8c8c" stroke-width="0.5"/>
<line x1="221.20" y1="62.12" x2="223.00" y2="62.12" stroke="#8c8c8c" stroke-width="0.5"/>
<circle cx="222.60" cy="58.71" r="0.7" fill="#999"/>
<circle cx="221.69" cy="67.10" r="0.7" fill="#999"/>
<circle cx="221.43" cy="71.68" r="0.7" fill="#999"/>
<circle cx="221.96" cy="62.27" r="0.7" fill="#999"/>
<circle cx="222.84" cy="64.28" r="0.7" fill="#999"/>
<circle cx="222.67" cy="62.41" r="0.7" fill="#999"/>
<circle cx="221.67" cy="71.27" r="0.7" fill="#999"/>
<circle cx="221.47" cy="69.63" r="0.7" fill="#999"/>
<circle cx="222.85" cy="71.94" r="0.7" fill="#999"/>
<rect x="228.40" y="79.58" width="3.6" height="6.82" fill="#fff" stroke="#000" stroke-width="0.65"/>
<line x1="230.20" y1="81.29" x2="230.20" y2="77.88" stroke="#000" stroke-width="0.5"/>
<line x1="229.30" y1="77.88" x2="231.10" y2="77.88" stroke="#000" stroke-width="0.5"/>
<circle cx="230.74" cy="76.52" r="0.8" fill="none" stroke="#222" stroke-width="0.45"/>
<circle cx="229.45" cy="78.90" r="0.8" fill="none" stroke="#222" stroke-width="0.45"/>
<circle cx="230.84" cy="80.98" r="0.8" fill="none" stroke="#222" stroke-width="0.45"/>
<circle cx="229.42" cy="81.09" r="0.8" fill="none" stroke="#222" stroke-width="0.45"/>
<circle cx="230.85" cy="78.94" r="0.8" fill="none" stroke="#222" stroke-width="0.45"/>
<circle cx="230.12" cy="79.84" r="0.8" fill="none" stroke="#222" stroke-width="0.45"/>
<circle cx="229.91" cy="81.04" r="0.8" fill="none" stroke="#222" stroke-width="0.45"/>
<circle cx="230.30" cy="78.09" r="0.8" fill="none" stroke="#222" stroke-width="0.45"/>
<circle cx="230.97" cy="79.13" r="0.8" fill="none" stroke="#222" stroke-width="0.45"/>
<rect x="233.60" y="80.22" width="3.6" height="6.18" fill="#fff" stroke="#000" stroke-width="0.65"/>
<line x1="235.40" y1="81.50" x2="235.40" y2="78.95" stroke="#000" stroke-width="0.5"/>
<line x1="234.50" y1="78.95" x2="236.30" y2="78.95" stroke="#000" stroke-width="0.5"/>
<path d="M235.05 77.73L236.05 79.53L234.05 79.53Z" fill="#000"/>
<path d="M235.87 80.17L236.87 81.97L234.87 81.97Z" fill="#000"/>
<path d="M235.02 79.15L236.02 80.95L234.02 80.95Z" fill="#000"/>
<path d="M235.40 79.89L236.40 81.69L234.40 81.69Z" fill="#000"/>
<path d="M234.82 80.22L235.82 82.02L233.82 82.02Z" fill="#000"/>
<path d="M235.12 80.09L236.12 81.89L234.12 81.89Z" fill="#000"/>
<path d="M234.53 80.37L235.53 82.17L233.53 82.17Z" fill="#000"/>
<path d="M234.95 79.99L235.95 81.79L233.95 81.79Z" fill="#000"/>
<path d="M234.53 79.70L235.53 81.50L233.53 81.50Z" fill="#000"/>
<rect x="238.80" y="78.73" width="3.6" height="7.67" fill="#fff" stroke="#8c8c8c" stroke-width="0.65"/>
<line x1="240.60" y1="80.01" x2="240.60" y2="77.45" stroke="#8c8c8c" stroke-width="0.5"/>
<line x1="239.70" y1="77.45" x2="241.50" y2="77.45" stroke="#8c8c8c" stroke-width="0.5"/>
<circle cx="241.20" cy="76.60" r="0.7" fill="#999"/>
<circle cx="240.41" cy="78.60" r="0.7" fill="#999"/>
<circle cx="240.61" cy="79.53" r="0.7" fill="#999"/>
<circle cx="240.94" cy="78.80" r="0.7" fill="#999"/>
<circle cx="241.47" cy="77.62" r="0.7" fill="#999"/>
<circle cx="240.32" cy="79.74" r="0.7" fill="#999"/>
<circle cx="241.20" cy="77.92" r="0.7" fill="#999"/>
<circle cx="240.97" cy="78.91" r="0.7" fill="#999"/>
<circle cx="240.84" cy="78.74" r="0.7" fill="#999"/>
<rect x="246.90" y="81.71" width="3.6" height="4.69" fill="#fff" stroke="#000" stroke-width="0.65"/>
<line x1="248.70" y1="82.57" x2="248.70" y2="80.86" stroke="#000" stroke-width="0.5"/>
<line x1="247.80" y1="80.86" x2="249.60" y2="80.86" stroke="#000" stroke-width="0.5"/>
<circle cx="249.31" cy="80.44" r="0.8" fill="none" stroke="#222" stroke-width="0.45"/>
<circle cx="249.37" cy="81.97" r="0.8" fill="none" stroke="#222" stroke-width="0.45"/>
<circle cx="249.01" cy="82.47" r="0.8" fill="none" stroke="#222" stroke-width="0.45"/>
<circle cx="248.31" cy="82.34" r="0.8" fill="none" stroke="#222" stroke-width="0.45"/>
<circle cx="248.24" cy="82.45" r="0.8" fill="none" stroke="#222" stroke-width="0.45"/>
<circle cx="248.33" cy="81.30" r="0.8" fill="none" stroke="#222" stroke-width="0.45"/>
<circle cx="248.63" cy="82.13" r="0.8" fill="none" stroke="#222" stroke-width="0.45"/>
<circle cx="248.08" cy="82.29" r="0.8" fill="none" stroke="#222" stroke-width="0.45"/>
<circle cx="248.60" cy="82.42" r="0.8" fill="none" stroke="#222" stroke-width="0.45"/>
<rect x="252.10" y="82.57" width="3.6" height="3.83" fill="#fff" stroke="#000" stroke-width="0.65"/>
<line x1="253.90" y1="83.42" x2="253.90" y2="81.71" stroke="#000" stroke-width="0.5"/>
<line x1="253.00" y1="81.71" x2="254.80" y2="81.71" stroke="#000" stroke-width="0.5"/>
<path d="M253.69 80.29L254.69 82.09L252.69 82.09Z" fill="#000"/>
<path d="M253.85 80.78L254.85 82.58L252.85 82.58Z" fill="#000"/>
<path d="M253.90 80.76L254.90 82.56L252.90 82.56Z" fill="#000"/>
<path d="M253.36 81.49L254.36 83.29L252.36 83.29Z" fill="#000"/>
<path d="M253.91 82.00L254.91 83.80L252.91 83.80Z" fill="#000"/>
<path d="M253.01 80.77L254.01 82.57L252.01 82.57Z" fill="#000"/>
<path d="M253.48 81.89L254.48 83.69L252.48 83.69Z" fill="#000"/>
<path d="M253.16 81.81L254.16 83.61L252.16 83.61Z" fill="#000"/>
<path d="M253.72 82.42L254.72 84.22L252.72 84.22Z" fill="#000"/>
<rect x="257.30" y="81.71" width="3.6" height="4.69" fill="#fff" stroke="#8c8c8c" stroke-width="0.65"/>
<line x1="259.10" y1="82.57" x2="259.10" y2="80.86" stroke="#8c8c8c" stroke-width="0.5"/>
<line x1="258.20" y1="80.86" x2="260.00" y2="80.86" stroke="#8c8c8c" stroke-width="0.5"/>
<circle cx="259.78" cy="80.86" r="0.7" fill="#999"/>
<circle cx="258.90" cy="82.53" r="0.7" fill="#999"/>
<circle cx="258.79" cy="82.05" r="0.7" fill="#999"/>
<circle cx="259.97" cy="82.17" r="0.7" fill="#999"/>
<circle cx="258.47" cy="81.57" r="0.7" fill="#999"/>
<circle cx="259.50" cy="81.66" r="0.7" fill="#999"/>
<circle cx="259.36" cy="81.29" r="0.7" fill="#999"/>
<circle cx="258.28" cy="81.45" r="0.7" fill="#999"/>
<circle cx="259.70" cy="81.35" r="0.7" fill="#999"/>
<rect x="265.40" y="80.22" width="3.6" height="6.18" fill="#fff" stroke="#000" stroke-width="0.65"/>
<line x1="267.20" y1="81.93" x2="267.20" y2="78.52" stroke="#000" stroke-width="0.5"/>
<line x1="266.30" y1="78.52" x2="268.10" y2="78.52" stroke="#000" stroke-width="0.5"/>
<circle cx="267.79" cy="76.52" r="0.8" fill="none" stroke="#222" stroke-width="0.45"/>
<circle cx="267.35" cy="79.79" r="0.8" fill="none" stroke="#222" stroke-width="0.45"/>
<circle cx="267.91" cy="79.43" r="0.8" fill="none" stroke="#222" stroke-width="0.45"/>
<circle cx="267.53" cy="79.16" r="0.8" fill="none" stroke="#222" stroke-width="0.45"/>
<circle cx="267.55" cy="81.45" r="0.8" fill="none" stroke="#222" stroke-width="0.45"/>
<circle cx="266.71" cy="80.14" r="0.8" fill="none" stroke="#222" stroke-width="0.45"/>
<circle cx="266.36" cy="80.21" r="0.8" fill="none" stroke="#222" stroke-width="0.45"/>
<circle cx="266.54" cy="79.08" r="0.8" fill="none" stroke="#222" stroke-width="0.45"/>
<circle cx="266.95" cy="79.18" r="0.8" fill="none" stroke="#222" stroke-width="0.45"/>
<rect x="270.60" y="82.57" width="3.6" height="3.83" fill="#fff" stroke="#000" stroke-width="0.65"/>
<line x1="272.40" y1="83.63" x2="272.40" y2="81.50" stroke="#000" stroke-width="0.5"/>
<line x1="271.50" y1="81.50" x2="273.30" y2="81.50" stroke="#000" stroke-width="0.5"/>
<path d="M272.85 80.29L273.85 82.09L271.85 82.09Z" fill="#000"/>
<path d="M272.41 80.85L273.41 82.65L271.41 82.65Z" fill="#000"/>
<path d="M272.46 81.44L273.46 83.24L271.46 83.24Z" fill="#000"/>
<path d="M272.69 81.29L273.69 83.09L271.69 83.09Z" fill="#000"/>
<path d="M271.62 81.30L272.62 83.10L270.62 83.10Z" fill="#000"/>
<path d="M272.83 81.18L273.83 82.98L271.83 82.98Z" fill="#000"/>
<path d="M271.95 81.59L272.95 83.39L270.95 83.39Z" fill="#000"/>
<path d="M271.63 82.62L272.63 84.42L270.63 84.42Z" fill="#000"/>
<path d="M271.98 80.93L272.98 82.73L270.98 82.73Z" fill="#000"/>
<rect x="275.80" y="80.99" width="3.6" height="5.41" fill="#fff" stroke="#8c8c8c" stroke-width="0.65"/>
<line x1="277.60" y1="81.84" x2="277.60" y2="80.14" stroke="#8c8c8c" stroke-width="0.5"/>
<line x1="276.70" y1="80.14" x2="278.50" y2="80.14" stroke="#8c8c8c" stroke-width="0.5"/>
<circle cx="277.81" cy="80.01" r="0.7" fill="#999"/>
<circle cx="277.86" cy="81.49" r="0.7" fill="#999"/>
<circle cx="276.84" cy="80.58" r="0.7" fill="#999"/>
<circle cx="276.97" cy="80.18" r="0.7" fill="#999"/>
<circle cx="277.16" cy="81.00" r="0.7" fill="#999"/>
<circle cx="278.04" cy="81.19" r="0.7" fill="#999"/>
<circle cx="277.25" cy="81.03" r="0.7" fill="#999"/>
<circle cx="277.72" cy="80.68" r="0.7" fill="#999"/>
<circle cx="276.72" cy="80.53" r="0.7" fill="#999"/>
<rect x="283.90" y="33.58" width="3.6" height="52.82" fill="#fff" stroke="#000" stroke-width="0.65"/>
<line x1="285.70" y1="36.98" x2="285.70" y2="30.17" stroke="#000" stroke-width="0.5"/>
<line x1="284.80" y1="30.17" x2="286.60" y2="30.17" stroke="#000" stroke-width="0.5"/>
<circle cx="285.01" cy="29.74" r="0.8" fill="none" stroke="#222" stroke-width="0.45"/>
<circle cx="286.41" cy="35.15" r="0.8" fill="none" stroke="#222" stroke-width="0.45"/>
<circle cx="285.16" cy="32.40" r="0.8" fill="none" stroke="#222" stroke-width="0.45"/>
<circle cx="286.56" cy="32.27" r="0.8" fill="none" stroke="#222" stroke-width="0.45"/>
<circle cx="286.49" cy="32.38" r="0.8" fill="none" stroke="#222" stroke-width="0.45"/>
<circle cx="284.83" cy="35.00" r="0.8" fill="none" stroke="#222" stroke-width="0.45"/>
<circle cx="285.63" cy="33.46" r="0.8" fill="none" stroke="#222" stroke-width="0.45"/>
<circle cx="286.28" cy="33.82" r="0.8" fill="none" stroke="#222" stroke-width="0.45"/>
<circle cx="286.54" cy="33.81" r="0.8" fill="none" stroke="#222" stroke-width="0.45"/>
<rect x="289.10" y="39.54" width="3.6" height="46.86" fill="#fff" stroke="#000" stroke-width="0.65"/>
<line x1="290.90" y1="42.10" x2="290.90" y2="36.98" stroke="#000" stroke-width="0.5"/>
<line x1="290.00" y1="36.98" x2="291.80" y2="36.98" stroke="#000" stroke-width="0.5"/>
<path d="M290.24 35.13L291.24 36.93L289.24 36.93Z" fill="#000"/>
<path d="M291.48 39.72L292.48 41.52L290.48 41.52Z" fill="#000"/>
<path d="M290.92 40.02L291.92 41.82L289.92 41.82Z" fill="#000"/>
<path d="M291.60 36.26L292.60 38.06L290.60 38.06Z" fill="#000"/>
<path d="M291.27 40.02L292.27 41.82L290.27 41.82Z" fill="#000"/>
<path d="M290.42 38.12L291.42 39.92L289.42 39.92Z" fill="#000"/>
<path d="M291.62 40.37L292.62 42.17L290.62 42.17Z" fill="#000"/>
<path d="M290.88 38.42L291.88 40.22L289.88 40.22Z" fill="#000"/>
<path d="M290.04 36.23L291.04 38.03L289.04 38.03Z" fill="#000"/>
<rect x="294.30" y="31.45" width="3.6" height="54.95" fill="#fff" stroke="#8c8c8c" stroke-width="0.65"/>
<line x1="296.10" y1="35.71" x2="296.10" y2="27.19" stroke="#8c8c8c" stroke-width="0.5"/>
<line x1="295.20" y1="27.19" x2="297.00" y2="27.19" stroke="#8c8c8c" stroke-width="0.5"/>
<circle cx="296.55" cy="26.76" r="0.7" fill="#999"/>
<circle cx="296.71" cy="31.52" r="0.7" fill="#999"/>
<circle cx="295.42" cy="31.87" r="0.7" fill="#999"/>
<circle cx="296.87" cy="33.13" r="0.7" fill="#999"/>
<circle cx="296.48" cy="34.51" r="0.7" fill="#999"/>
<circle cx="296.82" cy="32.78" r="0.7" fill="#999"/>
<circle cx="295.72" cy="33.01" r="0.7" fill="#999"/>
<circle cx="295.87" cy="28.55" r="0.7" fill="#999"/>
<circle cx="295.91" cy="35.69" r="0.7" fill="#999"/>
<rect x="302.40" y="59.14" width="3.6" height="27.26" fill="#fff" stroke="#000" stroke-width="0.65"/>
<line x1="304.20" y1="61.27" x2="304.20" y2="57.01" stroke="#000" stroke-width="0.5"/>
<line x1="303.30" y1="57.01" x2="305.10" y2="57.01" stroke="#000" stroke-width="0.5"/>
<circle cx="304.98" cy="56.58" r="0.8" fill="none" stroke="#222" stroke-width="0.45"/>
<circle cx="303.75" cy="58.76" r="0.8" fill="none" stroke="#222" stroke-width="0.45"/>
<circle cx="303.78" cy="59.73" r="0.8" fill="none" stroke="#222" stroke-width="0.45"/>
<circle cx="304.22" cy="59.44" r="0.8" fill="none" stroke="#222" stroke-width="0.45"/>
<circle cx="303.64" cy="60.09" r="0.8" fill="none" stroke="#222" stroke-width="0.45"/>
<circle cx="303.97" cy="61.06" r="0.8" fill="none" stroke="#222" stroke-width="0.45"/>
<circle cx="305.02" cy="60.83" r="0.8" fill="none" stroke="#222" stroke-width="0.45"/>
<circle cx="304.89" cy="57.71" r="0.8" fill="none" stroke="#222" stroke-width="0.45"/>
<circle cx="304.76" cy="60.05" r="0.8" fill="none" stroke="#222" stroke-width="0.45"/>
<rect x="307.60" y="65.95" width="3.6" height="20.45" fill="#fff" stroke="#000" stroke-width="0.65"/>
<line x1="309.40" y1="68.51" x2="309.40" y2="63.40" stroke="#000" stroke-width="0.5"/>
<line x1="308.50" y1="63.40" x2="310.30" y2="63.40" stroke="#000" stroke-width="0.5"/>
<path d="M309.66 61.54L310.66 63.34L308.66 63.34Z" fill="#000"/>
<path d="M309.02 62.84L310.02 64.64L308.02 64.64Z" fill="#000"/>
<path d="M308.59 62.70L309.59 64.50L307.59 64.50Z" fill="#000"/>
<path d="M310.17 64.70L311.17 66.50L309.17 66.50Z" fill="#000"/>
<path d="M308.73 63.83L309.73 65.63L307.73 65.63Z" fill="#000"/>
<path d="M309.35 67.26L310.35 69.06L308.35 69.06Z" fill="#000"/>
<path d="M309.12 63.76L310.12 65.56L308.12 65.56Z" fill="#000"/>
<path d="M309.04 65.20L310.04 67.00L308.04 67.00Z" fill="#000"/>
<path d="M309.83 63.66L310.83 65.46L308.83 65.46Z" fill="#000"/>
<rect x="312.80" y="59.99" width="3.6" height="26.41" fill="#fff" stroke="#8c8c8c" stroke-width="0.65"/>
<line x1="314.60" y1="62.54" x2="314.60" y2="57.43" stroke="#8c8c8c" stroke-width="0.5"/>
<line x1="313.70" y1="57.43" x2="315.50" y2="57.43" stroke="#8c8c8c" stroke-width="0.5"/>
<circle cx="315.33" cy="56.58" r="0.7" fill="#999"/>
<circle cx="314.59" cy="61.21" r="0.7" fill="#999"/>
<circle cx="314.10" cy="59.19" r="0.7" fill="#999"/>
<circle cx="315.33" cy="61.01" r="0.7" fill="#999"/>
<circle cx="315.49" cy="59.69" r="0.7" fill="#999"/>
<circle cx="314.51" cy="60.53" r="0.7" fill="#999"/>
<circle cx="313.95" cy="61.69" r="0.7" fill="#999"/>
<circle cx="314.05" cy="61.72" r="0.7" fill="#999"/>
<circle cx="313.86" cy="61.48" r="0.7" fill="#999"/>
<rect x="320.90" y="38.82" width="3.6" height="47.58" fill="#fff" stroke="#000" stroke-width="0.65"/>
<line x1="322.70" y1="43.08" x2="322.70" y2="34.56" stroke="#000" stroke-width="0.5"/>
<line x1="321.80" y1="34.56" x2="323.60" y2="34.56" stroke="#000" stroke-width="0.5"/>
<circle cx="322.74" cy="31.87" r="0.8" fill="none" stroke="#222" stroke-width="0.45"/>
<circle cx="322.48" cy="42.30" r="0.8" fill="none" stroke="#222" stroke-width="0.45"/>
<circle cx="322.41" cy="41.04" r="0.8" fill="none" stroke="#222" stroke-width="0.45"/>
<circle cx="321.91" cy="40.87" r="0.8" fill="none" stroke="#222" stroke-width="0.45"/>
<circle cx="322.30" cy="38.22" r="0.8" fill="none" stroke="#222" stroke-width="0.45"/>
<circle cx="323.54" cy="35.52" r="0.8" fill="none" stroke="#222" stroke-width="0.45"/>
<circle cx="322.03" cy="36.69" r="0.8" fill="none" stroke="#222" stroke-width="0.45"/>
<circle cx="322.71" cy="39.56" r="0.8" fill="none" stroke="#222" stroke-width="0.45"/>
<circle cx="322.93" cy="39.55" r="0.8" fill="none" stroke="#222" stroke-width="0.45"/>
<rect x="326.10" y="56.58" width="3.6" height="29.82" fill="#fff" stroke="#000" stroke-width="0.65"/>
<line x1="327.90" y1="58.71" x2="327.90" y2="54.45" stroke="#000" stroke-width="0.5"/>
<line x1="327.00" y1="54.45" x2="328.80" y2="54.45" stroke="#000" stroke-width="0.5"/>
<path d="M327.04 53.02L328.04 54.82L326.04 54.82Z" fill="#000"/>
<path d="M327.06 56.79L328.06 58.59L326.06 58.59Z" fill="#000"/>
<path d="M328.28 56.56L329.28 58.36L327.28 58.36Z" fill="#000"/>
<path d="M328.61 56.65L329.61 58.45L327.61 58.45Z" fill="#000"/>
<path d="M327.85 56.01L328.85 57.81L326.85 57.81Z" fill="#000"/>
<path d="M328.06 55.81L329.06 57.61L327.06 57.61Z" fill="#000"/>
<path d="M327.00 53.65L328.00 55.45L326.00 55.45Z" fill="#000"/>
<path d="M327.70 54.09L328.70 55.89L326.70 55.89Z" fill="#000"/>
<path d="M328.67 53.99L329.67 55.79L327.67 55.79Z" fill="#000"/>
<rect x="331.30" y="38.82" width="3.6" height="47.58" fill="#fff" stroke="#8c8c8c" stroke-width="0.65"/>
<line x1="333.10" y1="42.22" x2="333.10" y2="35.41" stroke="#8c8c8c" stroke-width="0.5"/>
<line x1="332.20" y1="35.41" x2="334.00" y2="35.41" stroke="#8c8c8c" stroke-width="0.5"/>
<circle cx="333.50" cy="34.43" r="0.7" fill="#999"/>
<circle cx="333.37" cy="36.39" r="0.7" fill="#999"/>
<circle cx="333.58" cy="35.60" r="0.7" fill="#999"/>
<circle cx="333.02" cy="40.53" r="0.7" fill="#999"/>
<circle cx="333.19" cy="41.48" r="0.7" fill="#999"/>
<circle cx="332.27" cy="41.17" r="0.7" fill="#999"/>
<circle cx="333.61" cy="38.66" r="0.7" fill="#999"/>
<circle cx="332.62" cy="37.57" r="0.7" fill="#999"/>
<circle cx="333.86" cy="35.81" r="0.7" fill="#999"/>
<rect x="339.40" y="85.55" width="3.6" height="0.85" fill="#fff" stroke="#000" stroke-width="0.65"/>
<circle cx="340.75" cy="84.70" r="0.8" fill="none" stroke="#222" stroke-width="0.45"/>
<circle cx="341.45" cy="85.88" r="0.8" fill="none" stroke="#222" stroke-width="0.45"/>
<circle cx="341.56" cy="86.18" r="0.8" fill="none" stroke="#222" stroke-width="0.45"/>
<rect x="344.60" y="85.55" width="3.6" height="0.85" fill="#fff" stroke="#000" stroke-width="0.65"/>
<path d="M346.55 83.70L347.55 85.50L345.55 85.50Z" fill="#000"/>
<path d="M346.20 85.28L347.20 87.08L345.20 87.08Z" fill="#000"/>
<path d="M345.90 84.51L346.90 86.31L344.90 86.31Z" fill="#000"/>
<circle cx="351.53" cy="85.55" r="0.7" fill="#999"/>
<circle cx="352.43" cy="86.39" r="0.7" fill="#999"/>
<circle cx="351.86" cy="86.14" r="0.7" fill="#999"/>
<path d="M216.50 15.80V13.30H222.30V15.80" fill="none" stroke="#444" stroke-width="0.6"/>
<text x="219.78" y="13.00" font-size="4.8" text-anchor="middle" font-weight="bold" fill="#000" stroke="#000" stroke-width="0.9" stroke-linejoin="round" letter-spacing="0.55">*</text>
<path d="M285.30 15.80V13.30H291.10V15.80" fill="none" stroke="#444" stroke-width="0.6"/>
<text x="288.57" y="13.00" font-size="4.8" text-anchor="middle" font-weight="bold" fill="#000" stroke="#000" stroke-width="0.9" stroke-linejoin="round" letter-spacing="0.55">****</text>
<path d="M303.80 15.80V13.30H309.60V15.80" fill="none" stroke="#444" stroke-width="0.6"/>
<text x="307.07" y="13.00" font-size="4.8" text-anchor="middle" font-weight="bold" fill="#000" stroke="#000" stroke-width="0.9" stroke-linejoin="round" letter-spacing="0.55">**</text>
<path d="M322.30 15.80V13.30H328.10V15.80" fill="none" stroke="#444" stroke-width="0.6"/>
<text x="325.57" y="13.00" font-size="4.8" text-anchor="middle" font-weight="bold" fill="#000" stroke="#000" stroke-width="0.9" stroke-linejoin="round" letter-spacing="0.55">****</text>
<path d="M211.30 24.60V22.10H217.10V24.60" fill="none" stroke="#444" stroke-width="0.6"/>
<text x="214.58" y="22.00" font-size="4.8" text-anchor="middle" font-weight="bold" fill="#000" stroke="#000" stroke-width="0.9" stroke-linejoin="round" letter-spacing="0.55">*</text>
<path d="M290.50 24.60V22.10H296.30V24.60" fill="none" stroke="#444" stroke-width="0.6"/>
<text x="293.77" y="22.00" font-size="4.8" text-anchor="middle" font-weight="bold" fill="#000" stroke="#000" stroke-width="0.9" stroke-linejoin="round" letter-spacing="0.55">****</text>
<path d="M309.00 24.60V22.10H314.80V24.60" fill="none" stroke="#444" stroke-width="0.6"/>
<text x="312.27" y="22.00" font-size="4.8" text-anchor="middle" font-weight="bold" fill="#000" stroke="#000" stroke-width="0.9" stroke-linejoin="round" letter-spacing="0.55">***</text>
<path d="M327.50 24.60V22.10H333.30V24.60" fill="none" stroke="#444" stroke-width="0.6"/>
<text x="330.77" y="22.00" font-size="4.8" text-anchor="middle" font-weight="bold" fill="#000" stroke="#000" stroke-width="0.9" stroke-linejoin="round" letter-spacing="0.55">****</text>
<text x="-0.20" y="145.80" font-size="7.6" text-anchor="start" font-weight="bold" fill="#000" >C</text>
<text x="97.40" y="147.10" font-size="5.5" text-anchor="middle" font-weight="bold" fill="#000" >Fc<tspan font-size="4.0" dy="0.4">&#947;</tspan><tspan dy="-0.4">RIIb Expression</tspan></text>
<text x="10.20" y="185.70" font-size="4.0" text-anchor="middle" font-weight="bold" fill="#000" stroke="#000" stroke-width="0.15" transform="rotate(-90 10.20 185.70)">Adjusted MFI</text>
<line x1="24.50" y1="154.22" x2="24.50" y2="218.70" stroke="#000" stroke-width="0.9"/>
<line x1="24.10" y1="218.30" x2="171.00" y2="218.30" stroke="#000" stroke-width="0.9"/>
<line x1="22.30" y1="218.30" x2="24.50" y2="218.30" stroke="#000" stroke-width="0.6"/>
<text x="22.30" y="219.70" font-size="4.0" text-anchor="end" font-weight="bold" fill="#000" stroke="#000" stroke-width="0.15">0</text>
<line x1="22.30" y1="202.38" x2="24.50" y2="202.38" stroke="#000" stroke-width="0.6"/>
<text x="22.30" y="203.78" font-size="4.0" text-anchor="end" font-weight="bold" fill="#000" stroke="#000" stroke-width="0.15">1000</text>
<line x1="22.30" y1="186.46" x2="24.50" y2="186.46" stroke="#000" stroke-width="0.6"/>
<text x="22.30" y="187.86" font-size="4.0" text-anchor="end" font-weight="bold" fill="#000" stroke="#000" stroke-width="0.15">2000</text>
<line x1="22.30" y1="170.54" x2="24.50" y2="170.54" stroke="#000" stroke-width="0.6"/>
<text x="22.30" y="171.94" font-size="4.0" text-anchor="end" font-weight="bold" fill="#000" stroke="#000" stroke-width="0.15">3000</text>
<line x1="22.30" y1="154.62" x2="24.50" y2="154.62" stroke="#000" stroke-width="0.6"/>
<text x="22.30" y="156.02" font-size="4.0" text-anchor="end" font-weight="bold" fill="#000" stroke="#000" stroke-width="0.15">4000</text>
<line x1="33.10" y1="218.30" x2="33.10" y2="220.10" stroke="#000" stroke-width="0.6"/>
<text x="34.10" y="224.90" font-size="4.15" text-anchor="end" font-weight="bold" fill="#000" stroke="#000" stroke-width="0.18" transform="rotate(-45 34.10 224.90)">RPMs</text>
<line x1="51.60" y1="218.30" x2="51.60" y2="220.10" stroke="#000" stroke-width="0.6"/>
<text x="52.60" y="224.90" font-size="4.15" text-anchor="end" font-weight="bold" fill="#000" stroke="#000" stroke-width="0.18" transform="rotate(-45 52.60 224.90)">CD8+ DCs</text>
<line x1="70.10" y1="218.30" x2="70.10" y2="220.10" stroke="#000" stroke-width="0.6"/>
<text x="71.10" y="224.90" font-size="4.15" text-anchor="end" font-weight="bold" fill="#000" stroke="#000" stroke-width="0.18" transform="rotate(-45 71.10 224.90)">CD11b+ DCs</text>
<line x1="88.60" y1="218.30" x2="88.60" y2="220.10" stroke="#000" stroke-width="0.6"/>
<text x="89.60" y="224.90" font-size="4.15" text-anchor="end" font-weight="bold" fill="#000" stroke="#000" stroke-width="0.18" transform="rotate(-45 89.60 224.90)">pDCs</text>
<line x1="107.10" y1="218.30" x2="107.10" y2="220.10" stroke="#000" stroke-width="0.6"/>
<text x="108.10" y="224.90" font-size="4.15" text-anchor="end" font-weight="bold" fill="#000" stroke="#000" stroke-width="0.18" transform="rotate(-45 108.10 224.90)">Inflammatory Monocytes</text>
<line x1="125.60" y1="218.30" x2="125.60" y2="220.10" stroke="#000" stroke-width="0.6"/>
<text x="126.60" y="224.90" font-size="4.15" text-anchor="end" font-weight="bold" fill="#000" stroke="#000" stroke-width="0.18" transform="rotate(-45 126.60 224.90)">Resident Monocytes</text>
<line x1="144.10" y1="218.30" x2="144.10" y2="220.10" stroke="#000" stroke-width="0.6"/>
<text x="145.10" y="224.90" font-size="4.15" text-anchor="end" font-weight="bold" fill="#000" stroke="#000" stroke-width="0.18" transform="rotate(-45 145.10 224.90)">Neutrophils</text>
<line x1="162.60" y1="218.30" x2="162.60" y2="220.10" stroke="#000" stroke-width="0.6"/>
<text x="163.60" y="224.90" font-size="4.15" text-anchor="end" font-weight="bold" fill="#000" stroke="#000" stroke-width="0.18" transform="rotate(-45 163.60 224.90)">B cells</text>
<rect x="26.10" y="211.14" width="3.6" height="7.16" fill="#fff" stroke="#000" stroke-width="0.65"/>
<line x1="27.90" y1="212.09" x2="27.90" y2="210.18" stroke="#000" stroke-width="0.5"/>
<line x1="27.00" y1="210.18" x2="28.80" y2="210.18" stroke="#000" stroke-width="0.5"/>
<circle cx="28.21" cy="209.54" r="0.8" fill="none" stroke="#222" stroke-width="0.45"/>
<circle cx="27.76" cy="211.18" r="0.8" fill="none" stroke="#222" stroke-width="0.45"/>
<circle cx="27.46" cy="211.64" r="0.8" fill="none" stroke="#222" stroke-width="0.45"/>
<circle cx="28.20" cy="211.62" r="0.8" fill="none" stroke="#222" stroke-width="0.45"/>
<circle cx="28.67" cy="210.26" r="0.8" fill="none" stroke="#222" stroke-width="0.45"/>
<circle cx="27.41" cy="210.75" r="0.8" fill="none" stroke="#222" stroke-width="0.45"/>
<circle cx="27.06" cy="211.50" r="0.8" fill="none" stroke="#222" stroke-width="0.45"/>
<circle cx="27.61" cy="212.05" r="0.8" fill="none" stroke="#222" stroke-width="0.45"/>
<circle cx="27.76" cy="211.14" r="0.8" fill="none" stroke="#222" stroke-width="0.45"/>
<rect x="31.30" y="212.57" width="3.6" height="5.73" fill="#fff" stroke="#000" stroke-width="0.65"/>
<line x1="33.10" y1="213.36" x2="33.10" y2="211.77" stroke="#000" stroke-width="0.5"/>
<line x1="32.20" y1="211.77" x2="34.00" y2="211.77" stroke="#000" stroke-width="0.5"/>
<path d="M32.62 210.14L33.62 211.94L31.62 211.94Z" fill="#000"/>
<path d="M32.60 212.05L33.60 213.85L31.60 213.85Z" fill="#000"/>
<path d="M33.57 211.10L34.57 212.90L32.57 212.90Z" fill="#000"/>
<path d="M32.73 211.19L33.73 212.99L31.73 212.99Z" fill="#000"/>
<path d="M33.91 211.56L34.91 213.36L32.91 213.36Z" fill="#000"/>
<path d="M33.09 212.04L34.09 213.84L32.09 213.84Z" fill="#000"/>
<path d="M32.54 210.82L33.54 212.62L31.54 212.62Z" fill="#000"/>
<path d="M32.60 211.87L33.60 213.67L31.60 213.67Z" fill="#000"/>
<path d="M32.95 211.06L33.95 212.86L31.95 212.86Z" fill="#000"/>
<rect x="36.50" y="212.57" width="3.6" height="5.73" fill="#fff" stroke="#8c8c8c" stroke-width="0.65"/>
<line x1="38.30" y1="213.05" x2="38.30" y2="212.09" stroke="#8c8c8c" stroke-width="0.5"/>
<line x1="37.40" y1="212.09" x2="39.20" y2="212.09" stroke="#8c8c8c" stroke-width="0.5"/>
<circle cx="38.11" cy="211.93" r="0.7" fill="#999"/>
<circle cx="39.02" cy="212.14" r="0.7" fill="#999"/>
<circle cx="38.99" cy="212.91" r="0.7" fill="#999"/>
<circle cx="38.72" cy="212.67" r="0.7" fill="#999"/>
<circle cx="39.20" cy="212.84" r="0.7" fill="#999"/>
<circle cx="39.08" cy="212.12" r="0.7" fill="#999"/>
<circle cx="37.99" cy="212.91" r="0.7" fill="#999"/>
<circle cx="37.73" cy="213.00" r="0.7" fill="#999"/>
<circle cx="39.08" cy="212.99" r="0.7" fill="#999"/>
<rect x="44.60" y="211.45" width="3.6" height="6.85" fill="#fff" stroke="#000" stroke-width="0.65"/>
<line x1="46.40" y1="212.25" x2="46.40" y2="210.66" stroke="#000" stroke-width="0.5"/>
<line x1="45.50" y1="210.66" x2="47.30" y2="210.66" stroke="#000" stroke-width="0.5"/>
<circle cx="46.13" cy="210.34" r="0.8" fill="none" stroke="#222" stroke-width="0.45"/>
<circle cx="47.22" cy="212.20" r="0.8" fill="none" stroke="#222" stroke-width="0.45"/>
<circle cx="45.72" cy="211.19" r="0.8" fill="none" stroke="#222" stroke-width="0.45"/>
<circle cx="47.24" cy="211.65" r="0.8" fill="none" stroke="#222" stroke-width="0.45"/>
<circle cx="45.87" cy="211.66" r="0.8" fill="none" stroke="#222" stroke-width="0.45"/>
<circle cx="46.14" cy="211.72" r="0.8" fill="none" stroke="#222" stroke-width="0.45"/>
<circle cx="46.98" cy="211.98" r="0.8" fill="none" stroke="#222" stroke-width="0.45"/>
<circle cx="46.98" cy="212.25" r="0.8" fill="none" stroke="#222" stroke-width="0.45"/>
<circle cx="46.28" cy="211.80" r="0.8" fill="none" stroke="#222" stroke-width="0.45"/>
<rect x="49.80" y="211.45" width="3.6" height="6.85" fill="#fff" stroke="#000" stroke-width="0.65"/>
<line x1="51.60" y1="212.73" x2="51.60" y2="210.18" stroke="#000" stroke-width="0.5"/>
<line x1="50.70" y1="210.18" x2="52.50" y2="210.18" stroke="#000" stroke-width="0.5"/>
<path d="M52.16 208.54L53.16 210.34L51.16 210.34Z" fill="#000"/>
<path d="M52.08 210.52L53.08 212.32L51.08 212.32Z" fill="#000"/>
<path d="M50.77 210.78L51.77 212.58L49.77 212.58Z" fill="#000"/>
<path d="M50.76 209.39L51.76 211.19L49.76 211.19Z" fill="#000"/>
<path d="M50.81 211.24L51.81 213.04L49.81 213.04Z" fill="#000"/>
<path d="M52.36 210.80L53.36 212.60L51.36 212.60Z" fill="#000"/>
<path d="M51.16 209.44L52.16 211.24L50.16 211.24Z" fill="#000"/>
<path d="M52.05 211.65L53.05 213.45L51.05 213.45Z" fill="#000"/>
<path d="M52.32 210.68L53.32 212.48L51.32 212.48Z" fill="#000"/>
<rect x="55.00" y="212.25" width="3.6" height="6.05" fill="#fff" stroke="#8c8c8c" stroke-width="0.65"/>
<line x1="56.80" y1="213.05" x2="56.80" y2="211.45" stroke="#8c8c8c" stroke-width="0.5"/>
<line x1="55.90" y1="211.45" x2="57.70" y2="211.45" stroke="#8c8c8c" stroke-width="0.5"/>
<circle cx="57.26" cy="211.14" r="0.7" fill="#999"/>
<circle cx="57.55" cy="212.61" r="0.7" fill="#999"/>
<circle cx="57.04" cy="211.52" r="0.7" fill="#999"/>
<circle cx="57.60" cy="212.06" r="0.7" fill="#999"/>
<circle cx="55.94" cy="212.63" r="0.7" fill="#999"/>
<circle cx="56.32" cy="211.91" r="0.7" fill="#999"/>
<circle cx="56.76" cy="212.54" r="0.7" fill="#999"/>
<circle cx="57.62" cy="212.61" r="0.7" fill="#999"/>
<circle cx="57.62" cy="213.04" r="0.7" fill="#999"/>
<rect x="63.10" y="215.43" width="3.6" height="2.87" fill="#fff" stroke="#000" stroke-width="0.65"/>
<line x1="64.90" y1="215.91" x2="64.90" y2="214.96" stroke="#000" stroke-width="0.5"/>
<line x1="64.00" y1="214.96" x2="65.80" y2="214.96" stroke="#000" stroke-width="0.5"/>
<circle cx="65.39" cy="214.80" r="0.8" fill="none" stroke="#222" stroke-width="0.45"/>
<circle cx="65.09" cy="215.67" r="0.8" fill="none" stroke="#222" stroke-width="0.45"/>
<circle cx="64.59" cy="215.50" r="0.8" fill="none" stroke="#222" stroke-width="0.45"/>
<circle cx="64.58" cy="215.44" r="0.8" fill="none" stroke="#222" stroke-width="0.45"/>
<circle cx="64.65" cy="215.03" r="0.8" fill="none" stroke="#222" stroke-width="0.45"/>
<circle cx="65.41" cy="215.74" r="0.8" fill="none" stroke="#222" stroke-width="0.45"/>
<circle cx="64.14" cy="215.15" r="0.8" fill="none" stroke="#222" stroke-width="0.45"/>
<circle cx="64.36" cy="215.21" r="0.8" fill="none" stroke="#222" stroke-width="0.45"/>
<circle cx="65.36" cy="215.13" r="0.8" fill="none" stroke="#222" stroke-width="0.45"/>
<rect x="68.30" y="216.71" width="3.6" height="1.59" fill="#fff" stroke="#000" stroke-width="0.65"/>
<line x1="70.10" y1="217.19" x2="70.10" y2="216.23" stroke="#000" stroke-width="0.5"/>
<line x1="69.20" y1="216.23" x2="71.00" y2="216.23" stroke="#000" stroke-width="0.5"/>
<path d="M70.19 214.91L71.19 216.71L69.19 216.71Z" fill="#000"/>
<path d="M69.79 216.12L70.79 217.92L68.79 217.92Z" fill="#000"/>
<path d="M70.96 216.15L71.96 217.95L69.96 217.95Z" fill="#000"/>
<rect x="73.50" y="216.71" width="3.6" height="1.59" fill="#fff" stroke="#8c8c8c" stroke-width="0.65"/>
<line x1="75.30" y1="216.95" x2="75.30" y2="216.47" stroke="#8c8c8c" stroke-width="0.5"/>
<line x1="74.40" y1="216.47" x2="76.20" y2="216.47" stroke="#8c8c8c" stroke-width="0.5"/>
<circle cx="74.55" cy="216.39" r="0.7" fill="#999"/>
<circle cx="74.57" cy="216.48" r="0.7" fill="#999"/>
<circle cx="75.30" cy="216.82" r="0.7" fill="#999"/>
<rect x="81.60" y="211.93" width="3.6" height="6.37" fill="#fff" stroke="#000" stroke-width="0.65"/>
<line x1="83.40" y1="213.84" x2="83.40" y2="210.02" stroke="#000" stroke-width="0.5"/>
<line x1="82.50" y1="210.02" x2="84.30" y2="210.02" stroke="#000" stroke-width="0.5"/>
<circle cx="82.72" cy="209.07" r="0.8" fill="none" stroke="#222" stroke-width="0.45"/>
<circle cx="84.01" cy="212.13" r="0.8" fill="none" stroke="#222" stroke-width="0.45"/>
<circle cx="83.03" cy="212.95" r="0.8" fill="none" stroke="#222" stroke-width="0.45"/>
<circle cx="83.52" cy="212.25" r="0.8" fill="none" stroke="#222" stroke-width="0.45"/>
<circle cx="83.17" cy="211.47" r="0.8" fill="none" stroke="#222" stroke-width="0.45"/>
<circle cx="83.83" cy="211.27" r="0.8" fill="none" stroke="#222" stroke-width="0.45"/>
<circle cx="82.86" cy="210.98" r="0.8" fill="none" stroke="#222" stroke-width="0.45"/>
<circle cx="82.95" cy="210.61" r="0.8" fill="none" stroke="#222" stroke-width="0.45"/>
<circle cx="82.94" cy="211.30" r="0.8" fill="none" stroke="#222" stroke-width="0.45"/>
<rect x="86.80" y="214.64" width="3.6" height="3.66" fill="#fff" stroke="#000" stroke-width="0.65"/>
<line x1="88.60" y1="215.91" x2="88.60" y2="213.36" stroke="#000" stroke-width="0.5"/>
<line x1="87.70" y1="213.36" x2="89.50" y2="213.36" stroke="#000" stroke-width="0.5"/>
<path d="M88.88 211.73L89.88 213.53L87.88 213.53Z" fill="#000"/>
<path d="M89.48 212.66L90.48 214.46L88.48 214.46Z" fill="#000"/>
<path d="M87.88 213.44L88.88 215.24L86.88 215.24Z" fill="#000"/>
<path d="M88.55 214.08L89.55 215.88L87.55 215.88Z" fill="#000"/>
<path d="M89.17 213.90L90.17 215.70L88.17 215.70Z" fill="#000"/>
<path d="M89.21 212.38L90.21 214.18L88.21 214.18Z" fill="#000"/>
<path d="M89.35 213.62L90.35 215.42L88.35 215.42Z" fill="#000"/>
<path d="M87.77 214.32L88.77 216.12L86.77 216.12Z" fill="#000"/>
<path d="M88.23 212.85L89.23 214.65L87.23 214.65Z" fill="#000"/>
<rect x="92.00" y="213.05" width="3.6" height="5.25" fill="#fff" stroke="#8c8c8c" stroke-width="0.65"/>
<line x1="93.80" y1="213.84" x2="93.80" y2="212.25" stroke="#8c8c8c" stroke-width="0.5"/>
<line x1="92.90" y1="212.25" x2="94.70" y2="212.25" stroke="#8c8c8c" stroke-width="0.5"/>
<circle cx="94.30" cy="211.93" r="0.7" fill="#999"/>
<circle cx="94.60" cy="213.54" r="0.7" fill="#999"/>
<circle cx="93.09" cy="212.29" r="0.7" fill="#999"/>
<circle cx="93.97" cy="212.91" r="0.7" fill="#999"/>
<circle cx="94.02" cy="212.36" r="0.7" fill="#999"/>
<circle cx="93.29" cy="213.25" r="0.7" fill="#999"/>
<circle cx="93.56" cy="212.46" r="0.7" fill="#999"/>
<circle cx="93.15" cy="213.13" r="0.7" fill="#999"/>
<circle cx="93.27" cy="213.43" r="0.7" fill="#999"/>
<rect x="100.10" y="188.05" width="3.6" height="30.25" fill="#fff" stroke="#000" stroke-width="0.65"/>
<line x1="101.90" y1="192.03" x2="101.90" y2="184.07" stroke="#000" stroke-width="0.5"/>
<line x1="101.00" y1="184.07" x2="102.80" y2="184.07" stroke="#000" stroke-width="0.5"/>
<circle cx="101.37" cy="181.37" r="0.8" fill="none" stroke="#222" stroke-width="0.45"/>
<circle cx="102.43" cy="187.26" r="0.8" fill="none" stroke="#222" stroke-width="0.45"/>
<circle cx="101.99" cy="186.84" r="0.8" fill="none" stroke="#222" stroke-width="0.45"/>
<circle cx="101.11" cy="190.41" r="0.8" fill="none" stroke="#222" stroke-width="0.45"/>
<circle cx="101.18" cy="191.94" r="0.8" fill="none" stroke="#222" stroke-width="0.45"/>
<circle cx="101.71" cy="189.43" r="0.8" fill="none" stroke="#222" stroke-width="0.45"/>
<circle cx="101.99" cy="186.63" r="0.8" fill="none" stroke="#222" stroke-width="0.45"/>
<circle cx="102.15" cy="190.56" r="0.8" fill="none" stroke="#222" stroke-width="0.45"/>
<circle cx="101.16" cy="189.55" r="0.8" fill="none" stroke="#222" stroke-width="0.45"/>
<rect x="105.30" y="193.46" width="3.6" height="24.84" fill="#fff" stroke="#000" stroke-width="0.65"/>
<line x1="107.10" y1="198.24" x2="107.10" y2="188.69" stroke="#000" stroke-width="0.5"/>
<line x1="106.20" y1="188.69" x2="108.00" y2="188.69" stroke="#000" stroke-width="0.5"/>
<path d="M106.95 185.94L107.95 187.74L105.95 187.74Z" fill="#000"/>
<path d="M107.76 190.60L108.76 192.40L106.76 192.40Z" fill="#000"/>
<path d="M107.99 193.33L108.99 195.13L106.99 195.13Z" fill="#000"/>
<path d="M106.85 194.53L107.85 196.33L105.85 196.33Z" fill="#000"/>
<path d="M106.55 194.30L107.55 196.10L105.55 196.10Z" fill="#000"/>
<path d="M107.51 188.14L108.51 189.94L106.51 189.94Z" fill="#000"/>
<path d="M106.57 194.26L107.57 196.06L105.57 196.06Z" fill="#000"/>
<path d="M106.21 191.83L107.21 193.63L105.21 193.63Z" fill="#000"/>
<path d="M107.82 193.83L108.82 195.63L106.82 195.63Z" fill="#000"/>
<rect x="110.50" y="190.20" width="3.6" height="28.10" fill="#fff" stroke="#8c8c8c" stroke-width="0.65"/>
<line x1="112.30" y1="193.39" x2="112.30" y2="187.02" stroke="#8c8c8c" stroke-width="0.5"/>
<line x1="111.40" y1="187.02" x2="113.20" y2="187.02" stroke="#8c8c8c" stroke-width="0.5"/>
<circle cx="113.04" cy="185.82" r="0.7" fill="#999"/>
<circle cx="111.56" cy="188.16" r="0.7" fill="#999"/>
<circle cx="112.52" cy="190.80" r="0.7" fill="#999"/>
<circle cx="112.07" cy="187.76" r="0.7" fill="#999"/>
<circle cx="112.31" cy="190.45" r="0.7" fill="#999"/>
<circle cx="111.66" cy="192.35" r="0.7" fill="#999"/>
<circle cx="111.91" cy="193.29" r="0.7" fill="#999"/>
<circle cx="112.34" cy="189.87" r="0.7" fill="#999"/>
<circle cx="113.07" cy="189.31" r="0.7" fill="#999"/>
<rect x="118.60" y="207.79" width="3.6" height="10.51" fill="#fff" stroke="#000" stroke-width="0.65"/>
<line x1="120.40" y1="210.18" x2="120.40" y2="205.40" stroke="#000" stroke-width="0.5"/>
<line x1="119.50" y1="205.40" x2="121.30" y2="205.40" stroke="#000" stroke-width="0.5"/>
<circle cx="119.60" cy="204.45" r="0.8" fill="none" stroke="#222" stroke-width="0.45"/>
<circle cx="121.17" cy="207.84" r="0.8" fill="none" stroke="#222" stroke-width="0.45"/>
<circle cx="120.20" cy="206.34" r="0.8" fill="none" stroke="#222" stroke-width="0.45"/>
<circle cx="121.13" cy="205.56" r="0.8" fill="none" stroke="#222" stroke-width="0.45"/>
<circle cx="120.62" cy="209.24" r="0.8" fill="none" stroke="#222" stroke-width="0.45"/>
<circle cx="120.98" cy="209.58" r="0.8" fill="none" stroke="#222" stroke-width="0.45"/>
<circle cx="119.79" cy="205.68" r="0.8" fill="none" stroke="#222" stroke-width="0.45"/>
<circle cx="120.91" cy="205.52" r="0.8" fill="none" stroke="#222" stroke-width="0.45"/>
<circle cx="119.90" cy="207.88" r="0.8" fill="none" stroke="#222" stroke-width="0.45"/>
<rect x="123.80" y="207.79" width="3.6" height="10.51" fill="#fff" stroke="#000" stroke-width="0.65"/>
<line x1="125.60" y1="210.18" x2="125.60" y2="205.40" stroke="#000" stroke-width="0.5"/>
<line x1="124.70" y1="205.40" x2="126.50" y2="205.40" stroke="#000" stroke-width="0.5"/>
<path d="M125.14 203.45L126.14 205.25L124.14 205.25Z" fill="#000"/>
<path d="M126.00 205.14L127.00 206.94L125.00 206.94Z" fill="#000"/>
<path d="M126.32 205.22L127.32 207.02L125.32 207.02Z" fill="#000"/>
<path d="M124.77 208.31L125.77 210.11L123.77 210.11Z" fill="#000"/>
<path d="M125.71 208.14L126.71 209.94L124.71 209.94Z" fill="#000"/>
<path d="M126.06 207.27L127.06 209.07L125.06 209.07Z" fill="#000"/>
<path d="M124.77 206.71L125.77 208.51L123.77 208.51Z" fill="#000"/>
<path d="M126.21 207.35L127.21 209.15L125.21 209.15Z" fill="#000"/>
<path d="M124.91 208.59L125.91 210.39L123.91 210.39Z" fill="#000"/>
<rect x="129.00" y="210.02" width="3.6" height="8.28" fill="#fff" stroke="#8c8c8c" stroke-width="0.65"/>
<line x1="130.80" y1="212.41" x2="130.80" y2="207.63" stroke="#8c8c8c" stroke-width="0.5"/>
<line x1="129.90" y1="207.63" x2="131.70" y2="207.63" stroke="#8c8c8c" stroke-width="0.5"/>
<circle cx="130.69" cy="205.25" r="0.7" fill="#999"/>
<circle cx="129.94" cy="209.78" r="0.7" fill="#999"/>
<circle cx="131.01" cy="209.41" r="0.7" fill="#999"/>
<circle cx="130.78" cy="210.95" r="0.7" fill="#999"/>
<circle cx="130.32" cy="210.40" r="0.7" fill="#999"/>
<circle cx="131.27" cy="209.63" r="0.7" fill="#999"/>
<circle cx="131.30" cy="210.38" r="0.7" fill="#999"/>
<circle cx="130.72" cy="209.26" r="0.7" fill="#999"/>
<circle cx="130.22" cy="210.28" r="0.7" fill="#999"/>
<circle cx="138.78" cy="217.82" r="0.8" fill="none" stroke="#222" stroke-width="0.45"/>
<circle cx="138.17" cy="218.11" r="0.8" fill="none" stroke="#222" stroke-width="0.45"/>
<circle cx="138.80" cy="218.10" r="0.8" fill="none" stroke="#222" stroke-width="0.45"/>
<path d="M143.35 216.82L144.35 218.62L142.35 218.62Z" fill="#000"/>
<path d="M144.52 217.13L145.52 218.93L143.52 218.93Z" fill="#000"/>
<path d="M144.60 216.94L145.60 218.74L143.60 218.74Z" fill="#000"/>
<circle cx="149.08" cy="217.98" r="0.7" fill="#999"/>
<circle cx="150.11" cy="218.28" r="0.7" fill="#999"/>
<circle cx="148.65" cy="218.14" r="0.7" fill="#999"/>
<rect x="155.60" y="177.07" width="3.6" height="41.23" fill="#fff" stroke="#000" stroke-width="0.65"/>
<line x1="157.40" y1="181.05" x2="157.40" y2="173.09" stroke="#000" stroke-width="0.5"/>
<line x1="156.50" y1="173.09" x2="158.30" y2="173.09" stroke="#000" stroke-width="0.5"/>
<circle cx="156.80" cy="171.65" r="0.8" fill="none" stroke="#222" stroke-width="0.45"/>
<circle cx="157.92" cy="173.12" r="0.8" fill="none" stroke="#222" stroke-width="0.45"/>
<circle cx="158.18" cy="175.22" r="0.8" fill="none" stroke="#222" stroke-width="0.45"/>
<circle cx="156.62" cy="174.56" r="0.8" fill="none" stroke="#222" stroke-width="0.45"/>
<circle cx="157.13" cy="179.51" r="0.8" fill="none" stroke="#222" stroke-width="0.45"/>
<circle cx="157.86" cy="173.23" r="0.8" fill="none" stroke="#222" stroke-width="0.45"/>
<circle cx="156.79" cy="177.13" r="0.8" fill="none" stroke="#222" stroke-width="0.45"/>
<circle cx="158.11" cy="173.43" r="0.8" fill="none" stroke="#222" stroke-width="0.45"/>
<circle cx="156.99" cy="173.76" r="0.8" fill="none" stroke="#222" stroke-width="0.45"/>
<rect x="160.80" y="180.41" width="3.6" height="37.89" fill="#fff" stroke="#000" stroke-width="0.65"/>
<line x1="162.60" y1="184.39" x2="162.60" y2="176.43" stroke="#000" stroke-width="0.5"/>
<line x1="161.70" y1="176.43" x2="163.50" y2="176.43" stroke="#000" stroke-width="0.5"/>
<path d="M162.03 173.84L163.03 175.64L161.03 175.64Z" fill="#000"/>
<path d="M161.99 182.25L162.99 184.05L160.99 184.05Z" fill="#000"/>
<path d="M163.39 179.39L164.39 181.19L162.39 181.19Z" fill="#000"/>
<path d="M162.92 176.07L163.92 177.87L161.92 177.87Z" fill="#000"/>
<path d="M163.31 181.73L164.31 183.53L162.31 183.53Z" fill="#000"/>
<path d="M162.00 181.30L163.00 183.10L161.00 183.10Z" fill="#000"/>
<path d="M163.11 179.36L164.11 181.16L162.11 181.16Z" fill="#000"/>
<path d="M161.91 180.85L162.91 182.65L160.91 182.65Z" fill="#000"/>
<path d="M162.66 183.10L163.66 184.90L161.66 184.90Z" fill="#000"/>
<rect x="166.00" y="178.66" width="3.6" height="39.64" fill="#fff" stroke="#8c8c8c" stroke-width="0.65"/>
<line x1="167.80" y1="183.44" x2="167.80" y2="173.88" stroke="#8c8c8c" stroke-width="0.5"/>
<line x1="166.90" y1="173.88" x2="168.70" y2="173.88" stroke="#8c8c8c" stroke-width="0.5"/>
<circle cx="167.61" cy="167.20" r="0.7" fill="#999"/>
<circle cx="168.34" cy="180.00" r="0.7" fill="#999"/>
<circle cx="167.38" cy="175.10" r="0.7" fill="#999"/>
<circle cx="168.68" cy="178.13" r="0.7" fill="#999"/>
<circle cx="167.94" cy="177.89" r="0.7" fill="#999"/>
<circle cx="167.55" cy="175.01" r="0.7" fill="#999"/>
<circle cx="168.28" cy="182.44" r="0.7" fill="#999"/>
<circle cx="167.70" cy="173.95" r="0.7" fill="#999"/>
<circle cx="167.22" cy="177.42" r="0.7" fill="#999"/>
<path d="M101.50 166.70V164.20H107.30V166.70" fill="none" stroke="#444" stroke-width="0.6"/>
<text x="104.78" y="164.00" font-size="4.8" text-anchor="middle" font-weight="bold" fill="#000" stroke="#000" stroke-width="0.9" stroke-linejoin="round" letter-spacing="0.55">**</text>
<text x="180.40" y="146.00" font-size="7.6" text-anchor="start" font-weight="bold" fill="#000" >D</text>
<text x="281.50" y="147.10" font-size="5.5" text-anchor="middle" font-weight="bold" fill="#000" >Fc<tspan font-size="4.0" dy="0.4">&#947;</tspan><tspan dy="-0.4">RI Expression</tspan></text>
<text x="194.10" y="185.60" font-size="4.0" text-anchor="middle" font-weight="bold" fill="#000" stroke="#000" stroke-width="0.15" transform="rotate(-90 194.10 185.60)">Adjusted MFI</text>
<line x1="208.00" y1="153.90" x2="208.00" y2="218.60" stroke="#000" stroke-width="0.9"/>
<line x1="207.60" y1="218.20" x2="354.50" y2="218.20" stroke="#000" stroke-width="0.9"/>
<line x1="205.80" y1="218.20" x2="208.00" y2="218.20" stroke="#000" stroke-width="0.6"/>
<text x="205.80" y="219.60" font-size="4.0" text-anchor="end" font-weight="bold" fill="#000" stroke="#000" stroke-width="0.15">0</text>
<line x1="205.80" y1="196.90" x2="208.00" y2="196.90" stroke="#000" stroke-width="0.6"/>
<text x="205.80" y="198.30" font-size="4.0" text-anchor="end" font-weight="bold" fill="#000" stroke="#000" stroke-width="0.15">500</text>
<line x1="205.80" y1="175.60" x2="208.00" y2="175.60" stroke="#000" stroke-width="0.6"/>
<text x="205.80" y="177.00" font-size="4.0" text-anchor="end" font-weight="bold" fill="#000" stroke="#000" stroke-width="0.15">1000</text>
<line x1="205.80" y1="154.30" x2="208.00" y2="154.30" stroke="#000" stroke-width="0.6"/>
<text x="205.80" y="155.70" font-size="4.0" text-anchor="end" font-weight="bold" fill="#000" stroke="#000" stroke-width="0.15">1500</text>
<line x1="216.60" y1="218.20" x2="216.60" y2="220.00" stroke="#000" stroke-width="0.6"/>
<text x="217.60" y="224.80" font-size="4.15" text-anchor="end" font-weight="bold" fill="#000" stroke="#000" stroke-width="0.18" transform="rotate(-45 217.60 224.80)">RPMs</text>
<line x1="235.10" y1="218.20" x2="235.10" y2="220.00" stroke="#000" stroke-width="0.6"/>
<text x="236.10" y="224.80" font-size="4.15" text-anchor="end" font-weight="bold" fill="#000" stroke="#000" stroke-width="0.18" transform="rotate(-45 236.10 224.80)">CD8+ DCs</text>
<line x1="253.60" y1="218.20" x2="253.60" y2="220.00" stroke="#000" stroke-width="0.6"/>
<text x="254.60" y="224.80" font-size="4.15" text-anchor="end" font-weight="bold" fill="#000" stroke="#000" stroke-width="0.18" transform="rotate(-45 254.60 224.80)">CD11b+ DCs</text>
<line x1="272.10" y1="218.20" x2="272.10" y2="220.00" stroke="#000" stroke-width="0.6"/>
<text x="273.10" y="224.80" font-size="4.15" text-anchor="end" font-weight="bold" fill="#000" stroke="#000" stroke-width="0.18" transform="rotate(-45 273.10 224.80)">pDCs</text>
<line x1="290.60" y1="218.20" x2="290.60" y2="220.00" stroke="#000" stroke-width="0.6"/>
<text x="291.60" y="224.80" font-size="4.15" text-anchor="end" font-weight="bold" fill="#000" stroke="#000" stroke-width="0.18" transform="rotate(-45 291.60 224.80)">Inflammatory Monocytes</text>
<line x1="309.10" y1="218.20" x2="309.10" y2="220.00" stroke="#000" stroke-width="0.6"/>
<text x="310.10" y="224.80" font-size="4.15" text-anchor="end" font-weight="bold" fill="#000" stroke="#000" stroke-width="0.18" transform="rotate(-45 310.10 224.80)">Resident Monocytes</text>
<line x1="327.60" y1="218.20" x2="327.60" y2="220.00" stroke="#000" stroke-width="0.6"/>
<text x="328.60" y="224.80" font-size="4.15" text-anchor="end" font-weight="bold" fill="#000" stroke="#000" stroke-width="0.18" transform="rotate(-45 328.60 224.80)">Neutrophils</text>
<line x1="346.10" y1="218.20" x2="346.10" y2="220.00" stroke="#000" stroke-width="0.6"/>
<text x="347.10" y="224.80" font-size="4.15" text-anchor="end" font-weight="bold" fill="#000" stroke="#000" stroke-width="0.18" transform="rotate(-45 347.10 224.80)">B cells</text>
<rect x="209.60" y="184.97" width="3.6" height="33.23" fill="#fff" stroke="#000" stroke-width="0.65"/>
<line x1="211.40" y1="190.08" x2="211.40" y2="179.86" stroke="#000" stroke-width="0.5"/>
<line x1="210.50" y1="179.86" x2="212.30" y2="179.86" stroke="#000" stroke-width="0.5"/>
<circle cx="210.50" cy="175.60" r="0.8" fill="none" stroke="#222" stroke-width="0.45"/>
<circle cx="210.56" cy="189.59" r="0.8" fill="none" stroke="#222" stroke-width="0.45"/>
<circle cx="210.77" cy="181.70" r="0.8" fill="none" stroke="#222" stroke-width="0.45"/>
<circle cx="211.61" cy="187.49" r="0.8" fill="none" stroke="#222" stroke-width="0.45"/>
<circle cx="211.28" cy="183.55" r="0.8" fill="none" stroke="#222" stroke-width="0.45"/>
<circle cx="211.42" cy="180.02" r="0.8" fill="none" stroke="#222" stroke-width="0.45"/>
<circle cx="212.11" cy="184.09" r="0.8" fill="none" stroke="#222" stroke-width="0.45"/>
<circle cx="210.74" cy="183.30" r="0.8" fill="none" stroke="#222" stroke-width="0.45"/>
<circle cx="210.91" cy="186.89" r="0.8" fill="none" stroke="#222" stroke-width="0.45"/>
<rect x="214.80" y="184.97" width="3.6" height="33.23" fill="#fff" stroke="#000" stroke-width="0.65"/>
<line x1="216.60" y1="195.62" x2="216.60" y2="174.32" stroke="#000" stroke-width="0.5"/>
<line x1="215.70" y1="174.32" x2="217.50" y2="174.32" stroke="#000" stroke-width="0.5"/>
<path d="M216.07 173.32L217.07 175.12L215.07 175.12Z" fill="#000"/>
<path d="M216.82 194.15L217.82 195.95L215.82 195.95Z" fill="#000"/>
<path d="M216.55 194.57L217.55 196.37L215.55 196.37Z" fill="#000"/>
<path d="M215.94 187.06L216.94 188.86L214.94 188.86Z" fill="#000"/>
<path d="M217.39 192.36L218.39 194.16L216.39 194.16Z" fill="#000"/>
<path d="M216.14 187.01L217.14 188.81L215.14 188.81Z" fill="#000"/>
<path d="M215.97 189.85L216.97 191.65L214.97 191.65Z" fill="#000"/>
<path d="M215.87 182.19L216.87 183.99L214.87 183.99Z" fill="#000"/>
<path d="M216.85 182.07L217.85 183.87L215.85 183.87Z" fill="#000"/>
<rect x="220.00" y="186.68" width="3.6" height="31.52" fill="#fff" stroke="#8c8c8c" stroke-width="0.65"/>
<line x1="221.80" y1="197.33" x2="221.80" y2="176.03" stroke="#8c8c8c" stroke-width="0.5"/>
<line x1="220.90" y1="176.03" x2="222.70" y2="176.03" stroke="#8c8c8c" stroke-width="0.5"/>
<circle cx="221.70" cy="168.78" r="0.7" fill="#999"/>
<circle cx="222.59" cy="180.67" r="0.7" fill="#999"/>
<circle cx="222.22" cy="188.76" r="0.7" fill="#999"/>
<circle cx="221.35" cy="191.70" r="0.7" fill="#999"/>
<circle cx="222.53" cy="197.08" r="0.7" fill="#999"/>
<circle cx="220.98" cy="183.59" r="0.7" fill="#999"/>
<circle cx="221.86" cy="185.35" r="0.7" fill="#999"/>
<circle cx="221.63" cy="189.86" r="0.7" fill="#999"/>
<circle cx="221.33" cy="183.57" r="0.7" fill="#999"/>
<rect x="228.10" y="202.01" width="3.6" height="16.19" fill="#fff" stroke="#000" stroke-width="0.65"/>
<line x1="229.90" y1="208.40" x2="229.90" y2="195.62" stroke="#000" stroke-width="0.5"/>
<line x1="229.00" y1="195.62" x2="230.80" y2="195.62" stroke="#000" stroke-width="0.5"/>
<circle cx="230.15" cy="188.38" r="0.8" fill="none" stroke="#222" stroke-width="0.45"/>
<circle cx="230.46" cy="198.45" r="0.8" fill="none" stroke="#222" stroke-width="0.45"/>
<circle cx="229.31" cy="208.24" r="0.8" fill="none" stroke="#222" stroke-width="0.45"/>
<circle cx="229.56" cy="201.36" r="0.8" fill="none" stroke="#222" stroke-width="0.45"/>
<circle cx="229.54" cy="196.38" r="0.8" fill="none" stroke="#222" stroke-width="0.45"/>
<circle cx="229.09" cy="206.58" r="0.8" fill="none" stroke="#222" stroke-width="0.45"/>
<circle cx="230.60" cy="205.85" r="0.8" fill="none" stroke="#222" stroke-width="0.45"/>
<circle cx="230.41" cy="200.63" r="0.8" fill="none" stroke="#222" stroke-width="0.45"/>
<circle cx="230.29" cy="201.92" r="0.8" fill="none" stroke="#222" stroke-width="0.45"/>
<rect x="233.30" y="203.72" width="3.6" height="14.48" fill="#fff" stroke="#000" stroke-width="0.65"/>
<line x1="235.10" y1="207.98" x2="235.10" y2="199.46" stroke="#000" stroke-width="0.5"/>
<line x1="234.20" y1="199.46" x2="236.00" y2="199.46" stroke="#000" stroke-width="0.5"/>
<path d="M234.27 195.05L235.27 196.85L233.27 196.85Z" fill="#000"/>
<path d="M234.80 199.78L235.80 201.58L233.80 201.58Z" fill="#000"/>
<path d="M235.55 200.63L236.55 202.43L234.55 202.43Z" fill="#000"/>
<path d="M235.45 203.01L236.45 204.81L234.45 204.81Z" fill="#000"/>
<path d="M235.72 200.66L236.72 202.46L234.72 202.46Z" fill="#000"/>
<path d="M235.48 203.12L236.48 204.92L234.48 204.92Z" fill="#000"/>
<path d="M234.68 205.05L235.68 206.85L233.68 206.85Z" fill="#000"/>
<path d="M235.20 206.08L236.20 207.88L234.20 207.88Z" fill="#000"/>
<path d="M234.98 205.00L235.98 206.80L233.98 206.80Z" fill="#000"/>
<rect x="238.50" y="199.03" width="3.6" height="19.17" fill="#fff" stroke="#8c8c8c" stroke-width="0.65"/>
<line x1="240.30" y1="202.44" x2="240.30" y2="195.62" stroke="#8c8c8c" stroke-width="0.5"/>
<line x1="239.40" y1="195.62" x2="241.20" y2="195.62" stroke="#8c8c8c" stroke-width="0.5"/>
<circle cx="239.82" cy="192.64" r="0.7" fill="#999"/>
<circle cx="240.74" cy="198.87" r="0.7" fill="#999"/>
<circle cx="241.10" cy="200.63" r="0.7" fill="#999"/>
<circle cx="240.74" cy="198.06" r="0.7" fill="#999"/>
<circle cx="239.99" cy="195.86" r="0.7" fill="#999"/>
<circle cx="240.98" cy="200.96" r="0.7" fill="#999"/>
<circle cx="239.99" cy="196.44" r="0.7" fill="#999"/>
<circle cx="239.83" cy="202.33" r="0.7" fill="#999"/>
<circle cx="241.03" cy="200.66" r="0.7" fill="#999"/>
<rect x="246.60" y="209.89" width="3.6" height="8.31" fill="#fff" stroke="#000" stroke-width="0.65"/>
<line x1="248.40" y1="211.60" x2="248.40" y2="208.19" stroke="#000" stroke-width="0.5"/>
<line x1="247.50" y1="208.19" x2="249.30" y2="208.19" stroke="#000" stroke-width="0.5"/>
<circle cx="248.80" cy="204.99" r="0.8" fill="none" stroke="#222" stroke-width="0.45"/>
<circle cx="248.53" cy="209.24" r="0.8" fill="none" stroke="#222" stroke-width="0.45"/>
<circle cx="248.05" cy="209.33" r="0.8" fill="none" stroke="#222" stroke-width="0.45"/>
<circle cx="247.88" cy="208.26" r="0.8" fill="none" stroke="#222" stroke-width="0.45"/>
<circle cx="248.62" cy="210.00" r="0.8" fill="none" stroke="#222" stroke-width="0.45"/>
<circle cx="247.64" cy="208.74" r="0.8" fill="none" stroke="#222" stroke-width="0.45"/>
<circle cx="249.14" cy="209.22" r="0.8" fill="none" stroke="#222" stroke-width="0.45"/>
<circle cx="247.76" cy="208.67" r="0.8" fill="none" stroke="#222" stroke-width="0.45"/>
<circle cx="247.55" cy="210.11" r="0.8" fill="none" stroke="#222" stroke-width="0.45"/>
<rect x="251.80" y="209.89" width="3.6" height="8.31" fill="#fff" stroke="#000" stroke-width="0.65"/>
<line x1="253.60" y1="211.60" x2="253.60" y2="208.19" stroke="#000" stroke-width="0.5"/>
<line x1="252.70" y1="208.19" x2="254.50" y2="208.19" stroke="#000" stroke-width="0.5"/>
<path d="M254.03 206.12L255.03 207.92L253.03 207.92Z" fill="#000"/>
<path d="M252.82 207.43L253.82 209.23L251.82 209.23Z" fill="#000"/>
<path d="M253.76 209.42L254.76 211.22L252.76 211.22Z" fill="#000"/>
<path d="M253.35 210.11L254.35 211.91L252.35 211.91Z" fill="#000"/>
<path d="M254.17 210.50L255.17 212.30L253.17 212.30Z" fill="#000"/>
<path d="M254.18 210.46L255.18 212.26L253.18 212.26Z" fill="#000"/>
<path d="M254.30 208.24L255.30 210.04L253.30 210.04Z" fill="#000"/>
<path d="M252.82 208.44L253.82 210.24L251.82 210.24Z" fill="#000"/>
<path d="M254.26 208.22L255.26 210.02L253.26 210.02Z" fill="#000"/>
<rect x="257.00" y="207.98" width="3.6" height="10.22" fill="#fff" stroke="#8c8c8c" stroke-width="0.65"/>
<line x1="258.80" y1="210.11" x2="258.80" y2="205.85" stroke="#8c8c8c" stroke-width="0.5"/>
<line x1="257.90" y1="205.85" x2="259.70" y2="205.85" stroke="#8c8c8c" stroke-width="0.5"/>
<circle cx="259.39" cy="204.01" r="0.7" fill="#999"/>
<circle cx="259.04" cy="206.08" r="0.7" fill="#999"/>
<circle cx="258.42" cy="209.65" r="0.7" fill="#999"/>
<circle cx="258.08" cy="209.23" r="0.7" fill="#999"/>
<circle cx="258.08" cy="209.63" r="0.7" fill="#999"/>
<circle cx="259.26" cy="209.96" r="0.7" fill="#999"/>
<circle cx="258.27" cy="206.49" r="0.7" fill="#999"/>
<circle cx="258.47" cy="206.65" r="0.7" fill="#999"/>
<circle cx="258.66" cy="207.40" r="0.7" fill="#999"/>
<rect x="265.10" y="209.68" width="3.6" height="8.52" fill="#fff" stroke="#000" stroke-width="0.65"/>
<line x1="266.90" y1="211.38" x2="266.90" y2="207.98" stroke="#000" stroke-width="0.5"/>
<line x1="266.00" y1="207.98" x2="267.80" y2="207.98" stroke="#000" stroke-width="0.5"/>
<circle cx="267.11" cy="207.00" r="0.8" fill="none" stroke="#222" stroke-width="0.45"/>
<circle cx="266.06" cy="210.51" r="0.8" fill="none" stroke="#222" stroke-width="0.45"/>
<circle cx="266.74" cy="210.42" r="0.8" fill="none" stroke="#222" stroke-width="0.45"/>
<circle cx="266.79" cy="208.94" r="0.8" fill="none" stroke="#222" stroke-width="0.45"/>
<circle cx="267.39" cy="210.13" r="0.8" fill="none" stroke="#222" stroke-width="0.45"/>
<circle cx="266.62" cy="210.29" r="0.8" fill="none" stroke="#222" stroke-width="0.45"/>
<circle cx="267.27" cy="208.10" r="0.8" fill="none" stroke="#222" stroke-width="0.45"/>
<circle cx="266.97" cy="209.67" r="0.8" fill="none" stroke="#222" stroke-width="0.45"/>
<circle cx="266.39" cy="208.48" r="0.8" fill="none" stroke="#222" stroke-width="0.45"/>
<rect x="270.30" y="210.96" width="3.6" height="7.24" fill="#fff" stroke="#000" stroke-width="0.65"/>
<line x1="272.10" y1="212.66" x2="272.10" y2="209.25" stroke="#000" stroke-width="0.5"/>
<line x1="271.20" y1="209.25" x2="273.00" y2="209.25" stroke="#000" stroke-width="0.5"/>
<path d="M272.08 206.98L273.08 208.78L271.08 208.78Z" fill="#000"/>
<path d="M272.08 211.35L273.08 213.15L271.08 213.15Z" fill="#000"/>
<path d="M272.63 208.87L273.63 210.67L271.63 210.67Z" fill="#000"/>
<path d="M271.53 211.08L272.53 212.88L270.53 212.88Z" fill="#000"/>
<path d="M272.09 211.66L273.09 213.46L271.09 213.46Z" fill="#000"/>
<path d="M271.82 210.97L272.82 212.77L270.82 212.77Z" fill="#000"/>
<path d="M272.70 209.06L273.70 210.86L271.70 210.86Z" fill="#000"/>
<path d="M271.67 208.33L272.67 210.13L270.67 210.13Z" fill="#000"/>
<path d="M272.90 211.65L273.90 213.45L271.90 213.45Z" fill="#000"/>
<rect x="275.50" y="209.00" width="3.6" height="9.20" fill="#fff" stroke="#8c8c8c" stroke-width="0.65"/>
<line x1="277.30" y1="217.52" x2="277.30" y2="200.48" stroke="#8c8c8c" stroke-width="0.5"/>
<line x1="276.40" y1="200.48" x2="278.20" y2="200.48" stroke="#8c8c8c" stroke-width="0.5"/>
<circle cx="277.82" cy="190.00" r="0.7" fill="#999"/>
<circle cx="277.53" cy="213.86" r="0.7" fill="#999"/>
<circle cx="277.04" cy="205.60" r="0.7" fill="#999"/>
<circle cx="277.12" cy="209.03" r="0.7" fill="#999"/>
<circle cx="277.11" cy="215.65" r="0.7" fill="#999"/>
<circle cx="278.00" cy="206.67" r="0.7" fill="#999"/>
<circle cx="276.56" cy="216.14" r="0.7" fill="#999"/>
<circle cx="278.00" cy="204.09" r="0.7" fill="#999"/>
<circle cx="276.45" cy="205.64" r="0.7" fill="#999"/>
<rect x="283.60" y="213.94" width="3.6" height="4.26" fill="#fff" stroke="#000" stroke-width="0.65"/>
<line x1="285.40" y1="217.35" x2="285.40" y2="210.53" stroke="#000" stroke-width="0.5"/>
<line x1="284.50" y1="210.53" x2="286.30" y2="210.53" stroke="#000" stroke-width="0.5"/>
<circle cx="285.86" cy="204.99" r="0.8" fill="none" stroke="#222" stroke-width="0.45"/>
<circle cx="285.86" cy="215.55" r="0.8" fill="none" stroke="#222" stroke-width="0.45"/>
<circle cx="285.66" cy="211.21" r="0.8" fill="none" stroke="#222" stroke-width="0.45"/>
<circle cx="285.13" cy="213.93" r="0.8" fill="none" stroke="#222" stroke-width="0.45"/>
<circle cx="285.09" cy="214.76" r="0.8" fill="none" stroke="#222" stroke-width="0.45"/>
<circle cx="284.78" cy="211.32" r="0.8" fill="none" stroke="#222" stroke-width="0.45"/>
<circle cx="286.02" cy="215.76" r="0.8" fill="none" stroke="#222" stroke-width="0.45"/>
<circle cx="285.69" cy="214.21" r="0.8" fill="none" stroke="#222" stroke-width="0.45"/>
<circle cx="285.84" cy="213.72" r="0.8" fill="none" stroke="#222" stroke-width="0.45"/>
<rect x="288.80" y="216.92" width="3.6" height="1.28" fill="#fff" stroke="#000" stroke-width="0.65"/>
<line x1="290.60" y1="218.20" x2="290.60" y2="215.22" stroke="#000" stroke-width="0.5"/>
<line x1="289.70" y1="215.22" x2="291.50" y2="215.22" stroke="#000" stroke-width="0.5"/>
<path d="M290.24 210.98L291.24 212.78L289.24 212.78Z" fill="#000"/>
<path d="M290.97 216.13L291.97 217.93L289.97 217.93Z" fill="#000"/>
<path d="M291.22 214.99L292.22 216.79L290.22 216.79Z" fill="#000"/>
<path d="M289.98 215.65L290.98 217.45L288.98 217.45Z" fill="#000"/>
<path d="M289.98 217.20L290.98 219.00L288.98 219.00Z" fill="#000"/>
<path d="M290.15 216.05L291.15 217.85L289.15 217.85Z" fill="#000"/>
<path d="M290.29 214.61L291.29 216.41L289.29 216.41Z" fill="#000"/>
<path d="M290.64 216.82L291.64 218.62L289.64 218.62Z" fill="#000"/>
<path d="M289.99 216.97L290.99 218.77L288.99 218.77Z" fill="#000"/>
<rect x="294.00" y="217.13" width="3.6" height="1.06" fill="#fff" stroke="#8c8c8c" stroke-width="0.65"/>
<circle cx="296.21" cy="216.50" r="0.7" fill="#999"/>
<circle cx="295.08" cy="217.53" r="0.7" fill="#999"/>
<circle cx="296.63" cy="216.53" r="0.7" fill="#999"/>
<rect x="302.10" y="209.00" width="3.6" height="9.20" fill="#fff" stroke="#000" stroke-width="0.65"/>
<line x1="303.90" y1="213.26" x2="303.90" y2="204.74" stroke="#000" stroke-width="0.5"/>
<line x1="303.00" y1="204.74" x2="304.80" y2="204.74" stroke="#000" stroke-width="0.5"/>
<circle cx="303.37" cy="199.03" r="0.8" fill="none" stroke="#222" stroke-width="0.45"/>
<circle cx="303.70" cy="209.98" r="0.8" fill="none" stroke="#222" stroke-width="0.45"/>
<circle cx="303.06" cy="204.88" r="0.8" fill="none" stroke="#222" stroke-width="0.45"/>
<circle cx="303.72" cy="206.49" r="0.8" fill="none" stroke="#222" stroke-width="0.45"/>
<circle cx="304.42" cy="207.01" r="0.8" fill="none" stroke="#222" stroke-width="0.45"/>
<circle cx="304.25" cy="209.55" r="0.8" fill="none" stroke="#222" stroke-width="0.45"/>
<circle cx="303.90" cy="211.59" r="0.8" fill="none" stroke="#222" stroke-width="0.45"/>
<circle cx="304.14" cy="207.82" r="0.8" fill="none" stroke="#222" stroke-width="0.45"/>
<circle cx="303.83" cy="212.35" r="0.8" fill="none" stroke="#222" stroke-width="0.45"/>
<rect x="307.30" y="209.00" width="3.6" height="9.20" fill="#fff" stroke="#000" stroke-width="0.65"/>
<line x1="309.10" y1="214.11" x2="309.10" y2="203.89" stroke="#000" stroke-width="0.5"/>
<line x1="308.20" y1="203.89" x2="310.00" y2="203.89" stroke="#000" stroke-width="0.5"/>
<path d="M308.61 201.99L309.61 203.79L307.61 203.79Z" fill="#000"/>
<path d="M309.50 206.94L310.50 208.74L308.50 208.74Z" fill="#000"/>
<path d="M309.78 208.97L310.78 210.77L308.78 210.77Z" fill="#000"/>
<path d="M309.59 205.53L310.59 207.33L308.59 207.33Z" fill="#000"/>
<path d="M309.46 203.83L310.46 205.63L308.46 205.63Z" fill="#000"/>
<path d="M309.73 208.71L310.73 210.51L308.73 210.51Z" fill="#000"/>
<path d="M309.42 207.24L310.42 209.04L308.42 209.04Z" fill="#000"/>
<path d="M309.35 205.45L310.35 207.25L308.35 207.25Z" fill="#000"/>
<path d="M309.02 208.80L310.02 210.60L308.02 210.60Z" fill="#000"/>
<rect x="312.50" y="207.98" width="3.6" height="10.22" fill="#fff" stroke="#8c8c8c" stroke-width="0.65"/>
<line x1="314.30" y1="213.09" x2="314.30" y2="202.86" stroke="#8c8c8c" stroke-width="0.5"/>
<line x1="313.40" y1="202.86" x2="315.20" y2="202.86" stroke="#8c8c8c" stroke-width="0.5"/>
<circle cx="314.22" cy="199.03" r="0.7" fill="#999"/>
<circle cx="314.52" cy="206.66" r="0.7" fill="#999"/>
<circle cx="314.14" cy="212.09" r="0.7" fill="#999"/>
<circle cx="314.62" cy="208.80" r="0.7" fill="#999"/>
<circle cx="315.07" cy="205.09" r="0.7" fill="#999"/>
<circle cx="313.73" cy="205.80" r="0.7" fill="#999"/>
<circle cx="314.58" cy="206.65" r="0.7" fill="#999"/>
<circle cx="314.80" cy="210.53" r="0.7" fill="#999"/>
<circle cx="314.10" cy="208.76" r="0.7" fill="#999"/>
<circle cx="322.48" cy="217.56" r="0.8" fill="none" stroke="#222" stroke-width="0.45"/>
<circle cx="321.79" cy="217.57" r="0.8" fill="none" stroke="#222" stroke-width="0.45"/>
<circle cx="322.91" cy="217.97" r="0.8" fill="none" stroke="#222" stroke-width="0.45"/>
<path d="M327.73 216.56L328.73 218.36L326.73 218.36Z" fill="#000"/>
<path d="M327.67 216.77L328.67 218.57L326.67 218.57Z" fill="#000"/>
<path d="M327.99 216.94L328.99 218.74L326.99 218.74Z" fill="#000"/>
<circle cx="332.84" cy="217.77" r="0.7" fill="#999"/>
<circle cx="332.64" cy="217.93" r="0.7" fill="#999"/>
<circle cx="333.61" cy="217.85" r="0.7" fill="#999"/>
<rect x="339.10" y="214.79" width="3.6" height="3.41" fill="#fff" stroke="#000" stroke-width="0.65"/>
<line x1="340.90" y1="217.35" x2="340.90" y2="212.24" stroke="#000" stroke-width="0.5"/>
<line x1="340.00" y1="212.24" x2="341.80" y2="212.24" stroke="#000" stroke-width="0.5"/>
<circle cx="340.72" cy="210.11" r="0.8" fill="none" stroke="#222" stroke-width="0.45"/>
<circle cx="340.02" cy="213.85" r="0.8" fill="none" stroke="#222" stroke-width="0.45"/>
<circle cx="340.75" cy="215.34" r="0.8" fill="none" stroke="#222" stroke-width="0.45"/>
<circle cx="340.76" cy="213.45" r="0.8" fill="none" stroke="#222" stroke-width="0.45"/>
<circle cx="341.26" cy="216.72" r="0.8" fill="none" stroke="#222" stroke-width="0.45"/>
<circle cx="340.63" cy="212.32" r="0.8" fill="none" stroke="#222" stroke-width="0.45"/>
<circle cx="340.48" cy="215.53" r="0.8" fill="none" stroke="#222" stroke-width="0.45"/>
<circle cx="340.40" cy="217.06" r="0.8" fill="none" stroke="#222" stroke-width="0.45"/>
<circle cx="341.33" cy="215.95" r="0.8" fill="none" stroke="#222" stroke-width="0.45"/>
<rect x="344.30" y="215.00" width="3.6" height="3.19" fill="#fff" stroke="#000" stroke-width="0.65"/>
<line x1="346.10" y1="216.28" x2="346.10" y2="213.73" stroke="#000" stroke-width="0.5"/>
<line x1="345.20" y1="213.73" x2="347.00" y2="213.73" stroke="#000" stroke-width="0.5"/>
<path d="M346.34 212.09L347.34 213.89L345.34 213.89Z" fill="#000"/>
<path d="M346.04 213.94L347.04 215.74L345.04 215.74Z" fill="#000"/>
<path d="M346.21 214.72L347.21 216.52L345.21 216.52Z" fill="#000"/>
<path d="M345.61 213.23L346.61 215.03L344.61 215.03Z" fill="#000"/>
<path d="M346.93 214.28L347.93 216.08L345.93 216.08Z" fill="#000"/>
<path d="M345.84 214.74L346.84 216.54L344.84 216.54Z" fill="#000"/>
<path d="M346.35 214.95L347.35 216.75L345.35 216.75Z" fill="#000"/>
<path d="M346.67 213.30L347.67 215.10L345.67 215.10Z" fill="#000"/>
<path d="M346.67 213.21L347.67 215.01L345.67 215.01Z" fill="#000"/>
<rect x="349.50" y="215.64" width="3.6" height="2.56" fill="#fff" stroke="#8c8c8c" stroke-width="0.65"/>
<circle cx="350.86" cy="214.79" r="0.7" fill="#999"/>
<circle cx="351.17" cy="215.99" r="0.7" fill="#999"/>
<circle cx="350.73" cy="215.56" r="0.7" fill="#999"/>
<circle cx="350.40" cy="216.28" r="0.7" fill="#999"/>
<circle cx="351.70" cy="215.08" r="0.7" fill="#999"/>
<circle cx="350.91" cy="215.89" r="0.7" fill="#999"/>
<circle cx="350.84" cy="215.05" r="0.7" fill="#999"/>
<circle cx="350.94" cy="216.04" r="0.7" fill="#999"/>
<circle cx="351.26" cy="215.86" r="0.7" fill="#999"/>
<circle cx="360.6" cy="17.4" r="1.75" fill="none" stroke="#111" stroke-width="0.95"/>
<path d="M360.5 27.2L362.1 30.1L358.9 30.1Z" fill="#000"/>
<circle cx="360.4" cy="38.4" r="1.25" fill="#7a7a7a"/>
<text x="367.40" y="19.90" font-size="6.8" text-anchor="start" font-weight="normal" fill="#000" stroke="#000" stroke-width="0.12">PBS</text>
<text x="367.40" y="31.10" font-size="6.8" text-anchor="start" font-weight="normal" fill="#000" stroke="#000" stroke-width="0.12">9e9</text>
<text x="367.40" y="41.00" font-size="6.8" text-anchor="start" font-weight="normal" fill="#000" stroke="#000" stroke-width="0.12">IgG Isotype</text>
</svg></body></html>
